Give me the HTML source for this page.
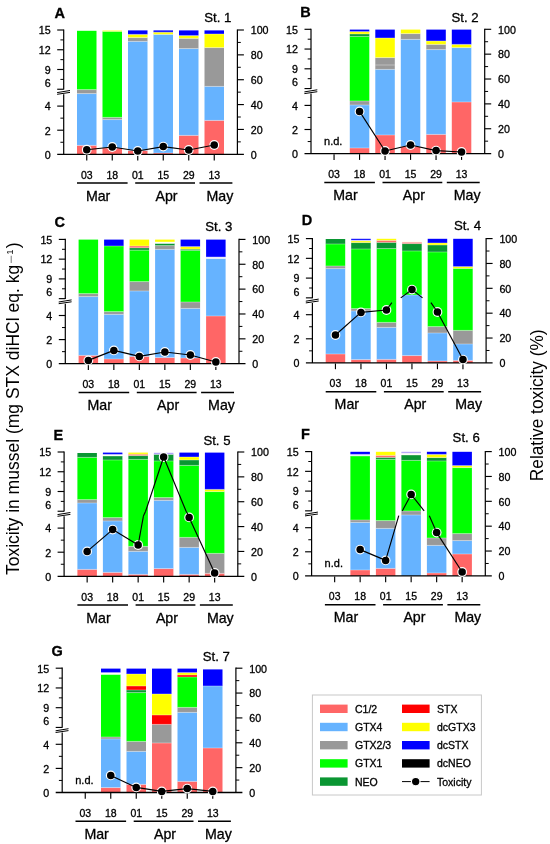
<!DOCTYPE html>
<html lang="en">
<head>
<meta charset="utf-8">
<title>Toxicity in mussel and relative toxicity, St. 1–7</title>
<style>
html,body{margin:0;padding:0;background:#fff;}
body{width:550px;height:844px;overflow:hidden;}
svg{display:block;}
svg text{font-family:'Liberation Sans', sans-serif;fill:#000;}
svg text.c{stroke:#000;stroke-width:0.3px;}
</style>
</head>
<body>
<svg width="550" height="844" viewBox="0 0 550 844">
<rect x="0" y="0" width="550" height="844" fill="#ffffff"/>
<g id="panelA">
<rect x="77.00" y="145.40" width="19.5" height="8.90" fill="#FF6666"/>
<rect x="77.00" y="93.60" width="19.5" height="51.80" fill="#66B3FF"/>
<rect x="77.00" y="89.60" width="19.5" height="4.00" fill="#999999"/>
<rect x="77.00" y="30.80" width="19.5" height="58.80" fill="#00FF00"/>
<line x1="77.00" y1="145.40" x2="96.50" y2="145.40" stroke="#fff" stroke-width="0.6" stroke-opacity="0.6"/>
<line x1="77.00" y1="93.60" x2="96.50" y2="93.60" stroke="#fff" stroke-width="0.6" stroke-opacity="0.6"/>
<line x1="77.00" y1="89.60" x2="96.50" y2="89.60" stroke="#fff" stroke-width="0.6" stroke-opacity="0.6"/>
<rect x="102.50" y="148.00" width="19.5" height="6.30" fill="#FF6666"/>
<rect x="102.50" y="119.60" width="19.5" height="28.40" fill="#66B3FF"/>
<rect x="102.50" y="117.40" width="19.5" height="2.20" fill="#999999"/>
<rect x="102.50" y="31.40" width="19.5" height="86.00" fill="#00FF00"/>
<rect x="102.50" y="30.60" width="19.5" height="0.80" fill="#FFFF00"/>
<line x1="102.50" y1="148.00" x2="122.00" y2="148.00" stroke="#fff" stroke-width="0.6" stroke-opacity="0.6"/>
<line x1="102.50" y1="119.60" x2="122.00" y2="119.60" stroke="#fff" stroke-width="0.6" stroke-opacity="0.6"/>
<line x1="102.50" y1="117.40" x2="122.00" y2="117.40" stroke="#fff" stroke-width="0.6" stroke-opacity="0.6"/>
<line x1="102.50" y1="31.40" x2="122.00" y2="31.40" stroke="#fff" stroke-width="0.6" stroke-opacity="0.6"/>
<rect x="128.00" y="150.50" width="19.5" height="3.80" fill="#FF6666"/>
<rect x="128.00" y="41.40" width="19.5" height="109.10" fill="#66B3FF"/>
<rect x="128.00" y="37.60" width="19.5" height="3.80" fill="#999999"/>
<rect x="128.00" y="34.40" width="19.5" height="3.20" fill="#FFFF00"/>
<rect x="128.00" y="30.40" width="19.5" height="4.00" fill="#0000FF"/>
<line x1="128.00" y1="150.50" x2="147.50" y2="150.50" stroke="#fff" stroke-width="0.6" stroke-opacity="0.6"/>
<line x1="128.00" y1="41.40" x2="147.50" y2="41.40" stroke="#fff" stroke-width="0.6" stroke-opacity="0.6"/>
<line x1="128.00" y1="37.60" x2="147.50" y2="37.60" stroke="#fff" stroke-width="0.6" stroke-opacity="0.6"/>
<line x1="128.00" y1="34.40" x2="147.50" y2="34.40" stroke="#fff" stroke-width="0.6" stroke-opacity="0.6"/>
<rect x="153.50" y="153.00" width="19.5" height="1.30" fill="#FF6666"/>
<rect x="153.50" y="34.40" width="19.5" height="118.60" fill="#66B3FF"/>
<rect x="153.50" y="32.20" width="19.5" height="2.20" fill="#FFFF00"/>
<rect x="153.50" y="30.40" width="19.5" height="1.80" fill="#0000FF"/>
<line x1="153.50" y1="153.00" x2="173.00" y2="153.00" stroke="#fff" stroke-width="0.6" stroke-opacity="0.6"/>
<line x1="153.50" y1="34.40" x2="173.00" y2="34.40" stroke="#fff" stroke-width="0.6" stroke-opacity="0.6"/>
<line x1="153.50" y1="32.20" x2="173.00" y2="32.20" stroke="#fff" stroke-width="0.6" stroke-opacity="0.6"/>
<rect x="179.00" y="135.40" width="19.5" height="18.90" fill="#FF6666"/>
<rect x="179.00" y="48.60" width="19.5" height="86.80" fill="#66B3FF"/>
<rect x="179.00" y="38.40" width="19.5" height="10.20" fill="#999999"/>
<rect x="179.00" y="35.60" width="19.5" height="2.80" fill="#FFFF00"/>
<rect x="179.00" y="30.40" width="19.5" height="5.20" fill="#0000FF"/>
<line x1="179.00" y1="135.40" x2="198.50" y2="135.40" stroke="#fff" stroke-width="0.6" stroke-opacity="0.6"/>
<line x1="179.00" y1="48.60" x2="198.50" y2="48.60" stroke="#fff" stroke-width="0.6" stroke-opacity="0.6"/>
<line x1="179.00" y1="38.40" x2="198.50" y2="38.40" stroke="#fff" stroke-width="0.6" stroke-opacity="0.6"/>
<line x1="179.00" y1="35.60" x2="198.50" y2="35.60" stroke="#fff" stroke-width="0.6" stroke-opacity="0.6"/>
<rect x="204.50" y="120.40" width="19.5" height="33.90" fill="#FF6666"/>
<rect x="204.50" y="86.40" width="19.5" height="34.00" fill="#66B3FF"/>
<rect x="204.50" y="47.60" width="19.5" height="38.80" fill="#999999"/>
<rect x="204.50" y="34.00" width="19.5" height="13.60" fill="#FFFF00"/>
<rect x="204.50" y="30.40" width="19.5" height="3.60" fill="#0000FF"/>
<line x1="204.50" y1="120.40" x2="224.00" y2="120.40" stroke="#fff" stroke-width="0.6" stroke-opacity="0.6"/>
<line x1="204.50" y1="86.40" x2="224.00" y2="86.40" stroke="#fff" stroke-width="0.6" stroke-opacity="0.6"/>
<line x1="204.50" y1="47.60" x2="224.00" y2="47.60" stroke="#fff" stroke-width="0.6" stroke-opacity="0.6"/>
<line x1="204.50" y1="34.00" x2="224.00" y2="34.00" stroke="#fff" stroke-width="0.6" stroke-opacity="0.6"/>
<line x1="57.20" y1="154.30" x2="243.90" y2="154.30" stroke="#000" stroke-width="1.3" />
<line x1="63.70" y1="29.40" x2="63.70" y2="89.60" stroke="#000" stroke-width="1.2" />
<line x1="63.70" y1="94.30" x2="63.70" y2="154.30" stroke="#000" stroke-width="1.2" />
<line x1="57.20" y1="30.00" x2="63.70" y2="30.00" stroke="#000" stroke-width="1.15" />
<line x1="57.20" y1="49.75" x2="63.70" y2="49.75" stroke="#000" stroke-width="1.15" />
<line x1="57.20" y1="69.50" x2="63.70" y2="69.50" stroke="#000" stroke-width="1.15" />
<line x1="57.20" y1="89.25" x2="63.70" y2="89.25" stroke="#000" stroke-width="1.15" />
<line x1="60.40" y1="39.90" x2="63.70" y2="39.90" stroke="#000" stroke-width="1.0" />
<line x1="60.40" y1="59.65" x2="63.70" y2="59.65" stroke="#000" stroke-width="1.0" />
<line x1="60.40" y1="79.40" x2="63.70" y2="79.40" stroke="#000" stroke-width="1.0" />
<line x1="57.20" y1="130.20" x2="63.70" y2="130.20" stroke="#000" stroke-width="1.15" />
<line x1="57.20" y1="106.10" x2="63.70" y2="106.10" stroke="#000" stroke-width="1.15" />
<line x1="60.40" y1="142.25" x2="63.70" y2="142.25" stroke="#000" stroke-width="1.0" />
<line x1="60.40" y1="118.15" x2="63.70" y2="118.15" stroke="#000" stroke-width="1.0" />
<line x1="57.10" y1="92.60" x2="70.00" y2="90.50" stroke="#000" stroke-width="1.0" />
<line x1="57.10" y1="94.30" x2="70.00" y2="92.40" stroke="#000" stroke-width="1.0" />
<line x1="237.40" y1="29.40" x2="237.40" y2="154.30" stroke="#000" stroke-width="1.2" />
<line x1="237.40" y1="30.00" x2="243.90" y2="30.00" stroke="#000" stroke-width="1.15" />
<line x1="237.40" y1="54.86" x2="243.90" y2="54.86" stroke="#000" stroke-width="1.15" />
<line x1="237.40" y1="79.72" x2="243.90" y2="79.72" stroke="#000" stroke-width="1.15" />
<line x1="237.40" y1="104.58" x2="243.90" y2="104.58" stroke="#000" stroke-width="1.15" />
<line x1="237.40" y1="129.44" x2="243.90" y2="129.44" stroke="#000" stroke-width="1.15" />
<line x1="237.40" y1="42.43" x2="240.80" y2="42.43" stroke="#000" stroke-width="1.0" />
<line x1="237.40" y1="67.29" x2="240.80" y2="67.29" stroke="#000" stroke-width="1.0" />
<line x1="237.40" y1="92.15" x2="240.80" y2="92.15" stroke="#000" stroke-width="1.0" />
<line x1="237.40" y1="117.01" x2="240.80" y2="117.01" stroke="#000" stroke-width="1.0" />
<line x1="237.40" y1="141.87" x2="240.80" y2="141.87" stroke="#000" stroke-width="1.0" />
<text class="c" x="50.70" y="34.30" font-size="10.7" text-anchor="end" font-weight="normal" >15</text>
<text class="c" x="50.70" y="54.05" font-size="10.7" text-anchor="end" font-weight="normal" >12</text>
<text class="c" x="50.70" y="73.80" font-size="10.7" text-anchor="end" font-weight="normal" >9</text>
<text class="c" x="50.70" y="86.90" font-size="10.7" text-anchor="end" font-weight="normal" >6</text>
<text class="c" x="50.70" y="110.40" font-size="10.7" text-anchor="end" font-weight="normal" >4</text>
<text class="c" x="50.70" y="134.50" font-size="10.7" text-anchor="end" font-weight="normal" >2</text>
<text class="c" x="50.70" y="158.60" font-size="10.7" text-anchor="end" font-weight="normal" >0</text>
<text class="c" x="250.70" y="34.30" font-size="10.7" text-anchor="start" font-weight="normal" >100</text>
<text class="c" x="250.70" y="59.16" font-size="10.7" text-anchor="start" font-weight="normal" >80</text>
<text class="c" x="250.70" y="84.02" font-size="10.7" text-anchor="start" font-weight="normal" >60</text>
<text class="c" x="250.70" y="108.88" font-size="10.7" text-anchor="start" font-weight="normal" >40</text>
<text class="c" x="250.70" y="133.74" font-size="10.7" text-anchor="start" font-weight="normal" >20</text>
<text class="c" x="250.70" y="158.60" font-size="10.7" text-anchor="start" font-weight="normal" >0</text>
<line x1="86.75" y1="154.90" x2="86.75" y2="160.60" stroke="#000" stroke-width="1.15" />
<text class="c" x="86.75" y="178.50" font-size="10.5" text-anchor="middle" font-weight="normal" >03</text>
<line x1="112.25" y1="154.90" x2="112.25" y2="160.60" stroke="#000" stroke-width="1.15" />
<text class="c" x="112.25" y="178.50" font-size="10.5" text-anchor="middle" font-weight="normal" >18</text>
<line x1="137.75" y1="154.90" x2="137.75" y2="160.60" stroke="#000" stroke-width="1.15" />
<text class="c" x="137.75" y="178.50" font-size="10.5" text-anchor="middle" font-weight="normal" >01</text>
<line x1="163.25" y1="154.90" x2="163.25" y2="160.60" stroke="#000" stroke-width="1.15" />
<text class="c" x="163.25" y="178.50" font-size="10.5" text-anchor="middle" font-weight="normal" >15</text>
<line x1="188.75" y1="154.90" x2="188.75" y2="160.60" stroke="#000" stroke-width="1.15" />
<text class="c" x="188.75" y="178.50" font-size="10.5" text-anchor="middle" font-weight="normal" >29</text>
<line x1="214.25" y1="154.90" x2="214.25" y2="160.60" stroke="#000" stroke-width="1.15" />
<text class="c" x="214.25" y="178.50" font-size="10.5" text-anchor="middle" font-weight="normal" >13</text>
<line x1="77.00" y1="183.10" x2="127.60" y2="183.10" stroke="#000" stroke-width="1.5" />
<line x1="135.20" y1="183.10" x2="195.00" y2="183.10" stroke="#000" stroke-width="1.5" />
<line x1="199.50" y1="183.10" x2="232.40" y2="183.10" stroke="#000" stroke-width="1.5" />
<text class="c" x="85.90" y="200.60" font-size="14.2" text-anchor="start" font-weight="normal" >Mar</text>
<text class="c" x="155.50" y="200.60" font-size="14.2" text-anchor="start" font-weight="normal" >Apr</text>
<text class="c" x="206.50" y="200.60" font-size="14.2" text-anchor="start" font-weight="normal" >May</text>
<text class="c" x="54.40" y="17.70" font-size="14.5" text-anchor="start" font-weight="bold" >A</text>
<text class="c" x="204.20" y="22.30" font-size="13.2" text-anchor="start" font-weight="normal" >St. 1</text>
<circle cx="86.75" cy="149.70" r="4.9" fill="#fff"/>
<circle cx="112.25" cy="147.00" r="4.9" fill="#fff"/>
<circle cx="137.75" cy="151.00" r="4.9" fill="#fff"/>
<circle cx="163.25" cy="146.60" r="4.9" fill="#fff"/>
<circle cx="188.75" cy="150.00" r="4.9" fill="#fff"/>
<circle cx="214.25" cy="145.00" r="4.9" fill="#fff"/>
<line x1="86.75" y1="149.70" x2="112.25" y2="147.00" stroke="#000" stroke-width="1.15" />
<line x1="112.25" y1="147.00" x2="137.75" y2="151.00" stroke="#000" stroke-width="1.15" />
<line x1="137.75" y1="151.00" x2="163.25" y2="146.60" stroke="#000" stroke-width="1.15" />
<line x1="163.25" y1="146.60" x2="188.75" y2="150.00" stroke="#000" stroke-width="1.15" />
<line x1="188.75" y1="150.00" x2="214.25" y2="145.00" stroke="#000" stroke-width="1.15" />
<circle cx="86.75" cy="149.70" r="3.75" fill="#000"/>
<circle cx="112.25" cy="147.00" r="3.75" fill="#000"/>
<circle cx="137.75" cy="151.00" r="3.75" fill="#000"/>
<circle cx="163.25" cy="146.60" r="3.75" fill="#000"/>
<circle cx="188.75" cy="150.00" r="3.75" fill="#000"/>
<circle cx="214.25" cy="145.00" r="3.75" fill="#000"/>
</g>
<g id="panelB">
<rect x="349.80" y="148.00" width="19.5" height="5.60" fill="#FF6666"/>
<rect x="349.80" y="105.00" width="19.5" height="43.00" fill="#66B3FF"/>
<rect x="349.80" y="101.00" width="19.5" height="4.00" fill="#999999"/>
<rect x="349.80" y="36.40" width="19.5" height="64.60" fill="#00FF00"/>
<rect x="349.80" y="34.00" width="19.5" height="2.40" fill="#0A9632"/>
<rect x="349.80" y="31.60" width="19.5" height="2.40" fill="#FFFF00"/>
<rect x="349.80" y="29.60" width="19.5" height="2.00" fill="#0000FF"/>
<line x1="349.80" y1="148.00" x2="369.30" y2="148.00" stroke="#fff" stroke-width="0.6" stroke-opacity="0.6"/>
<line x1="349.80" y1="105.00" x2="369.30" y2="105.00" stroke="#fff" stroke-width="0.6" stroke-opacity="0.6"/>
<line x1="349.80" y1="101.00" x2="369.30" y2="101.00" stroke="#fff" stroke-width="0.6" stroke-opacity="0.6"/>
<line x1="349.80" y1="36.40" x2="369.30" y2="36.40" stroke="#fff" stroke-width="0.6" stroke-opacity="0.6"/>
<line x1="349.80" y1="34.00" x2="369.30" y2="34.00" stroke="#fff" stroke-width="0.6" stroke-opacity="0.6"/>
<line x1="349.80" y1="31.60" x2="369.30" y2="31.60" stroke="#fff" stroke-width="0.6" stroke-opacity="0.6"/>
<rect x="375.30" y="135.00" width="19.5" height="18.60" fill="#FF6666"/>
<rect x="375.30" y="69.40" width="19.5" height="65.60" fill="#66B3FF"/>
<rect x="375.30" y="65.00" width="19.5" height="4.40" fill="#999999"/>
<rect x="375.30" y="57.60" width="19.5" height="7.40" fill="#999999"/>
<rect x="375.30" y="38.00" width="19.5" height="19.60" fill="#FFFF00"/>
<rect x="375.30" y="29.60" width="19.5" height="8.40" fill="#0000FF"/>
<line x1="375.30" y1="135.00" x2="394.80" y2="135.00" stroke="#fff" stroke-width="0.6" stroke-opacity="0.6"/>
<line x1="375.30" y1="69.40" x2="394.80" y2="69.40" stroke="#fff" stroke-width="0.6" stroke-opacity="0.6"/>
<line x1="375.30" y1="65.00" x2="394.80" y2="65.00" stroke="#fff" stroke-width="0.6" stroke-opacity="0.6"/>
<line x1="375.30" y1="57.60" x2="394.80" y2="57.60" stroke="#fff" stroke-width="0.6" stroke-opacity="0.6"/>
<line x1="375.30" y1="38.00" x2="394.80" y2="38.00" stroke="#fff" stroke-width="0.6" stroke-opacity="0.6"/>
<rect x="400.80" y="146.40" width="19.5" height="7.20" fill="#FF6666"/>
<rect x="400.80" y="39.40" width="19.5" height="107.00" fill="#66B3FF"/>
<rect x="400.80" y="33.60" width="19.5" height="5.80" fill="#999999"/>
<rect x="400.80" y="29.60" width="19.5" height="4.00" fill="#FFFF00"/>
<line x1="400.80" y1="146.40" x2="420.30" y2="146.40" stroke="#fff" stroke-width="0.6" stroke-opacity="0.6"/>
<line x1="400.80" y1="39.40" x2="420.30" y2="39.40" stroke="#fff" stroke-width="0.6" stroke-opacity="0.6"/>
<line x1="400.80" y1="33.60" x2="420.30" y2="33.60" stroke="#fff" stroke-width="0.6" stroke-opacity="0.6"/>
<rect x="426.30" y="134.40" width="19.5" height="19.20" fill="#FF6666"/>
<rect x="426.30" y="49.60" width="19.5" height="84.80" fill="#66B3FF"/>
<rect x="426.30" y="44.40" width="19.5" height="5.20" fill="#999999"/>
<rect x="426.30" y="41.00" width="19.5" height="3.40" fill="#FFFF00"/>
<rect x="426.30" y="29.60" width="19.5" height="11.40" fill="#0000FF"/>
<line x1="426.30" y1="134.40" x2="445.80" y2="134.40" stroke="#fff" stroke-width="0.6" stroke-opacity="0.6"/>
<line x1="426.30" y1="49.60" x2="445.80" y2="49.60" stroke="#fff" stroke-width="0.6" stroke-opacity="0.6"/>
<line x1="426.30" y1="44.40" x2="445.80" y2="44.40" stroke="#fff" stroke-width="0.6" stroke-opacity="0.6"/>
<line x1="426.30" y1="41.00" x2="445.80" y2="41.00" stroke="#fff" stroke-width="0.6" stroke-opacity="0.6"/>
<rect x="451.80" y="102.00" width="19.5" height="51.60" fill="#FF6666"/>
<rect x="451.80" y="47.60" width="19.5" height="54.40" fill="#66B3FF"/>
<rect x="451.80" y="44.40" width="19.5" height="3.20" fill="#FFFF00"/>
<rect x="451.80" y="29.60" width="19.5" height="14.80" fill="#0000FF"/>
<line x1="451.80" y1="102.00" x2="471.30" y2="102.00" stroke="#fff" stroke-width="0.6" stroke-opacity="0.6"/>
<line x1="451.80" y1="47.60" x2="471.30" y2="47.60" stroke="#fff" stroke-width="0.6" stroke-opacity="0.6"/>
<line x1="451.80" y1="44.40" x2="471.30" y2="44.40" stroke="#fff" stroke-width="0.6" stroke-opacity="0.6"/>
<line x1="304.50" y1="153.60" x2="491.20" y2="153.60" stroke="#000" stroke-width="1.3" />
<line x1="311.00" y1="28.70" x2="311.00" y2="88.90" stroke="#000" stroke-width="1.2" />
<line x1="311.00" y1="93.60" x2="311.00" y2="153.60" stroke="#000" stroke-width="1.2" />
<line x1="304.50" y1="29.30" x2="311.00" y2="29.30" stroke="#000" stroke-width="1.15" />
<line x1="304.50" y1="49.05" x2="311.00" y2="49.05" stroke="#000" stroke-width="1.15" />
<line x1="304.50" y1="68.80" x2="311.00" y2="68.80" stroke="#000" stroke-width="1.15" />
<line x1="304.50" y1="88.55" x2="311.00" y2="88.55" stroke="#000" stroke-width="1.15" />
<line x1="307.70" y1="39.20" x2="311.00" y2="39.20" stroke="#000" stroke-width="1.0" />
<line x1="307.70" y1="58.95" x2="311.00" y2="58.95" stroke="#000" stroke-width="1.0" />
<line x1="307.70" y1="78.70" x2="311.00" y2="78.70" stroke="#000" stroke-width="1.0" />
<line x1="304.50" y1="129.50" x2="311.00" y2="129.50" stroke="#000" stroke-width="1.15" />
<line x1="304.50" y1="105.40" x2="311.00" y2="105.40" stroke="#000" stroke-width="1.15" />
<line x1="307.70" y1="141.55" x2="311.00" y2="141.55" stroke="#000" stroke-width="1.0" />
<line x1="307.70" y1="117.45" x2="311.00" y2="117.45" stroke="#000" stroke-width="1.0" />
<line x1="304.40" y1="91.90" x2="317.30" y2="89.80" stroke="#000" stroke-width="1.0" />
<line x1="304.40" y1="93.60" x2="317.30" y2="91.70" stroke="#000" stroke-width="1.0" />
<line x1="484.70" y1="28.70" x2="484.70" y2="153.60" stroke="#000" stroke-width="1.2" />
<line x1="484.70" y1="29.30" x2="491.20" y2="29.30" stroke="#000" stroke-width="1.15" />
<line x1="484.70" y1="54.16" x2="491.20" y2="54.16" stroke="#000" stroke-width="1.15" />
<line x1="484.70" y1="79.02" x2="491.20" y2="79.02" stroke="#000" stroke-width="1.15" />
<line x1="484.70" y1="103.88" x2="491.20" y2="103.88" stroke="#000" stroke-width="1.15" />
<line x1="484.70" y1="128.74" x2="491.20" y2="128.74" stroke="#000" stroke-width="1.15" />
<line x1="484.70" y1="41.73" x2="488.10" y2="41.73" stroke="#000" stroke-width="1.0" />
<line x1="484.70" y1="66.59" x2="488.10" y2="66.59" stroke="#000" stroke-width="1.0" />
<line x1="484.70" y1="91.45" x2="488.10" y2="91.45" stroke="#000" stroke-width="1.0" />
<line x1="484.70" y1="116.31" x2="488.10" y2="116.31" stroke="#000" stroke-width="1.0" />
<line x1="484.70" y1="141.17" x2="488.10" y2="141.17" stroke="#000" stroke-width="1.0" />
<text class="c" x="298.00" y="33.60" font-size="10.7" text-anchor="end" font-weight="normal" >15</text>
<text class="c" x="298.00" y="53.35" font-size="10.7" text-anchor="end" font-weight="normal" >12</text>
<text class="c" x="298.00" y="73.10" font-size="10.7" text-anchor="end" font-weight="normal" >9</text>
<text class="c" x="298.00" y="86.20" font-size="10.7" text-anchor="end" font-weight="normal" >6</text>
<text class="c" x="298.00" y="109.70" font-size="10.7" text-anchor="end" font-weight="normal" >4</text>
<text class="c" x="298.00" y="133.80" font-size="10.7" text-anchor="end" font-weight="normal" >2</text>
<text class="c" x="298.00" y="157.90" font-size="10.7" text-anchor="end" font-weight="normal" >0</text>
<text class="c" x="498.00" y="33.60" font-size="10.7" text-anchor="start" font-weight="normal" >100</text>
<text class="c" x="498.00" y="58.46" font-size="10.7" text-anchor="start" font-weight="normal" >80</text>
<text class="c" x="498.00" y="83.32" font-size="10.7" text-anchor="start" font-weight="normal" >60</text>
<text class="c" x="498.00" y="108.18" font-size="10.7" text-anchor="start" font-weight="normal" >40</text>
<text class="c" x="498.00" y="133.04" font-size="10.7" text-anchor="start" font-weight="normal" >20</text>
<text class="c" x="498.00" y="157.90" font-size="10.7" text-anchor="start" font-weight="normal" >0</text>
<line x1="334.05" y1="154.20" x2="334.05" y2="159.90" stroke="#000" stroke-width="1.15" />
<text class="c" x="334.05" y="177.80" font-size="10.5" text-anchor="middle" font-weight="normal" >03</text>
<line x1="359.55" y1="154.20" x2="359.55" y2="159.90" stroke="#000" stroke-width="1.15" />
<text class="c" x="359.55" y="177.80" font-size="10.5" text-anchor="middle" font-weight="normal" >18</text>
<line x1="385.05" y1="154.20" x2="385.05" y2="159.90" stroke="#000" stroke-width="1.15" />
<text class="c" x="385.05" y="177.80" font-size="10.5" text-anchor="middle" font-weight="normal" >01</text>
<line x1="410.55" y1="154.20" x2="410.55" y2="159.90" stroke="#000" stroke-width="1.15" />
<text class="c" x="410.55" y="177.80" font-size="10.5" text-anchor="middle" font-weight="normal" >15</text>
<line x1="436.05" y1="154.20" x2="436.05" y2="159.90" stroke="#000" stroke-width="1.15" />
<text class="c" x="436.05" y="177.80" font-size="10.5" text-anchor="middle" font-weight="normal" >29</text>
<line x1="461.55" y1="154.20" x2="461.55" y2="159.90" stroke="#000" stroke-width="1.15" />
<text class="c" x="461.55" y="177.80" font-size="10.5" text-anchor="middle" font-weight="normal" >13</text>
<line x1="324.30" y1="182.40" x2="374.90" y2="182.40" stroke="#000" stroke-width="1.5" />
<line x1="382.50" y1="182.40" x2="442.30" y2="182.40" stroke="#000" stroke-width="1.5" />
<line x1="446.80" y1="182.40" x2="479.70" y2="182.40" stroke="#000" stroke-width="1.5" />
<text class="c" x="333.20" y="199.90" font-size="14.2" text-anchor="start" font-weight="normal" >Mar</text>
<text class="c" x="402.80" y="199.90" font-size="14.2" text-anchor="start" font-weight="normal" >Apr</text>
<text class="c" x="453.80" y="199.90" font-size="14.2" text-anchor="start" font-weight="normal" >May</text>
<text class="c" x="300.30" y="17.00" font-size="14.5" text-anchor="start" font-weight="bold" >B</text>
<text class="c" x="451.50" y="21.60" font-size="13.2" text-anchor="start" font-weight="normal" >St. 2</text>
<text class="c" x="333.20" y="145.00" font-size="11" text-anchor="middle" font-weight="normal" >n.d.</text>
<circle cx="359.55" cy="111.40" r="4.9" fill="#fff"/>
<circle cx="385.05" cy="151.00" r="4.9" fill="#fff"/>
<circle cx="410.55" cy="145.00" r="4.9" fill="#fff"/>
<circle cx="436.05" cy="150.60" r="4.9" fill="#fff"/>
<circle cx="461.55" cy="152.00" r="4.9" fill="#fff"/>
<line x1="359.55" y1="111.40" x2="385.05" y2="151.00" stroke="#000" stroke-width="1.15" />
<line x1="385.05" y1="151.00" x2="410.55" y2="145.00" stroke="#000" stroke-width="1.15" />
<line x1="410.55" y1="145.00" x2="436.05" y2="150.60" stroke="#000" stroke-width="1.15" />
<line x1="436.05" y1="150.60" x2="461.55" y2="152.00" stroke="#000" stroke-width="1.15" />
<circle cx="359.55" cy="111.40" r="3.75" fill="#000"/>
<circle cx="385.05" cy="151.00" r="3.75" fill="#000"/>
<circle cx="410.55" cy="145.00" r="3.75" fill="#000"/>
<circle cx="436.05" cy="150.60" r="3.75" fill="#000"/>
<circle cx="461.55" cy="152.00" r="3.75" fill="#000"/>
</g>
<g id="panelC">
<rect x="78.60" y="355.40" width="19.5" height="8.30" fill="#FF6666"/>
<rect x="78.60" y="296.60" width="19.5" height="58.80" fill="#66B3FF"/>
<rect x="78.60" y="293.60" width="19.5" height="3.00" fill="#999999"/>
<rect x="78.60" y="239.60" width="19.5" height="54.00" fill="#00FF00"/>
<line x1="78.60" y1="355.40" x2="98.10" y2="355.40" stroke="#fff" stroke-width="0.6" stroke-opacity="0.6"/>
<line x1="78.60" y1="296.60" x2="98.10" y2="296.60" stroke="#fff" stroke-width="0.6" stroke-opacity="0.6"/>
<line x1="78.60" y1="293.60" x2="98.10" y2="293.60" stroke="#fff" stroke-width="0.6" stroke-opacity="0.6"/>
<rect x="104.10" y="359.00" width="19.5" height="4.70" fill="#FF6666"/>
<rect x="104.10" y="314.40" width="19.5" height="44.60" fill="#66B3FF"/>
<rect x="104.10" y="311.60" width="19.5" height="2.80" fill="#999999"/>
<rect x="104.10" y="246.00" width="19.5" height="65.60" fill="#00FF00"/>
<rect x="104.10" y="239.60" width="19.5" height="6.40" fill="#0000FF"/>
<line x1="104.10" y1="359.00" x2="123.60" y2="359.00" stroke="#fff" stroke-width="0.6" stroke-opacity="0.6"/>
<line x1="104.10" y1="314.40" x2="123.60" y2="314.40" stroke="#fff" stroke-width="0.6" stroke-opacity="0.6"/>
<line x1="104.10" y1="311.60" x2="123.60" y2="311.60" stroke="#fff" stroke-width="0.6" stroke-opacity="0.6"/>
<line x1="104.10" y1="246.00" x2="123.60" y2="246.00" stroke="#fff" stroke-width="0.6" stroke-opacity="0.6"/>
<rect x="129.60" y="356.40" width="19.5" height="7.30" fill="#FF6666"/>
<rect x="129.60" y="291.00" width="19.5" height="65.40" fill="#66B3FF"/>
<rect x="129.60" y="281.60" width="19.5" height="9.40" fill="#999999"/>
<rect x="129.60" y="250.20" width="19.5" height="31.40" fill="#00FF00"/>
<rect x="129.60" y="247.80" width="19.5" height="2.40" fill="#0A9632"/>
<rect x="129.60" y="246.00" width="19.5" height="1.80" fill="#FF6666"/>
<rect x="129.60" y="239.60" width="19.5" height="6.40" fill="#FFFF00"/>
<line x1="129.60" y1="356.40" x2="149.10" y2="356.40" stroke="#fff" stroke-width="0.6" stroke-opacity="0.6"/>
<line x1="129.60" y1="291.00" x2="149.10" y2="291.00" stroke="#fff" stroke-width="0.6" stroke-opacity="0.6"/>
<line x1="129.60" y1="281.60" x2="149.10" y2="281.60" stroke="#fff" stroke-width="0.6" stroke-opacity="0.6"/>
<line x1="129.60" y1="250.20" x2="149.10" y2="250.20" stroke="#fff" stroke-width="0.6" stroke-opacity="0.6"/>
<line x1="129.60" y1="247.80" x2="149.10" y2="247.80" stroke="#fff" stroke-width="0.6" stroke-opacity="0.6"/>
<line x1="129.60" y1="246.00" x2="149.10" y2="246.00" stroke="#fff" stroke-width="0.6" stroke-opacity="0.6"/>
<rect x="155.10" y="357.60" width="19.5" height="6.10" fill="#FF6666"/>
<rect x="155.10" y="249.40" width="19.5" height="108.20" fill="#66B3FF"/>
<rect x="155.10" y="245.60" width="19.5" height="3.80" fill="#999999"/>
<rect x="155.10" y="243.40" width="19.5" height="2.20" fill="#0A9632"/>
<rect x="155.10" y="242.00" width="19.5" height="1.40" fill="#FFFFF4"/>
<rect x="155.10" y="239.60" width="19.5" height="2.40" fill="#FFFF00"/>
<line x1="155.10" y1="357.60" x2="174.60" y2="357.60" stroke="#fff" stroke-width="0.6" stroke-opacity="0.6"/>
<line x1="155.10" y1="249.40" x2="174.60" y2="249.40" stroke="#fff" stroke-width="0.6" stroke-opacity="0.6"/>
<line x1="155.10" y1="245.60" x2="174.60" y2="245.60" stroke="#fff" stroke-width="0.6" stroke-opacity="0.6"/>
<line x1="155.10" y1="243.40" x2="174.60" y2="243.40" stroke="#fff" stroke-width="0.6" stroke-opacity="0.6"/>
<line x1="155.10" y1="242.00" x2="174.60" y2="242.00" stroke="#fff" stroke-width="0.6" stroke-opacity="0.6"/>
<rect x="180.60" y="358.00" width="19.5" height="5.70" fill="#FF6666"/>
<rect x="180.60" y="308.40" width="19.5" height="49.60" fill="#66B3FF"/>
<rect x="180.60" y="302.00" width="19.5" height="6.40" fill="#999999"/>
<rect x="180.60" y="250.40" width="19.5" height="51.60" fill="#00FF00"/>
<rect x="180.60" y="249.20" width="19.5" height="1.20" fill="#0A9632"/>
<rect x="180.60" y="246.60" width="19.5" height="2.60" fill="#FFFF00"/>
<rect x="180.60" y="239.60" width="19.5" height="7.00" fill="#0000FF"/>
<line x1="180.60" y1="358.00" x2="200.10" y2="358.00" stroke="#fff" stroke-width="0.6" stroke-opacity="0.6"/>
<line x1="180.60" y1="308.40" x2="200.10" y2="308.40" stroke="#fff" stroke-width="0.6" stroke-opacity="0.6"/>
<line x1="180.60" y1="302.00" x2="200.10" y2="302.00" stroke="#fff" stroke-width="0.6" stroke-opacity="0.6"/>
<line x1="180.60" y1="250.40" x2="200.10" y2="250.40" stroke="#fff" stroke-width="0.6" stroke-opacity="0.6"/>
<line x1="180.60" y1="249.20" x2="200.10" y2="249.20" stroke="#fff" stroke-width="0.6" stroke-opacity="0.6"/>
<line x1="180.60" y1="246.60" x2="200.10" y2="246.60" stroke="#fff" stroke-width="0.6" stroke-opacity="0.6"/>
<rect x="206.10" y="316.00" width="19.5" height="47.70" fill="#FF6666"/>
<rect x="206.10" y="258.60" width="19.5" height="57.40" fill="#66B3FF"/>
<rect x="206.10" y="257.00" width="19.5" height="1.60" fill="#E8E8F8"/>
<rect x="206.10" y="239.60" width="19.5" height="17.40" fill="#0000FF"/>
<line x1="206.10" y1="316.00" x2="225.60" y2="316.00" stroke="#fff" stroke-width="0.6" stroke-opacity="0.6"/>
<line x1="206.10" y1="258.60" x2="225.60" y2="258.60" stroke="#fff" stroke-width="0.6" stroke-opacity="0.6"/>
<line x1="206.10" y1="257.00" x2="225.60" y2="257.00" stroke="#fff" stroke-width="0.6" stroke-opacity="0.6"/>
<line x1="58.80" y1="363.70" x2="245.50" y2="363.70" stroke="#000" stroke-width="1.3" />
<line x1="65.30" y1="238.80" x2="65.30" y2="299.00" stroke="#000" stroke-width="1.2" />
<line x1="65.30" y1="303.70" x2="65.30" y2="363.70" stroke="#000" stroke-width="1.2" />
<line x1="58.80" y1="239.40" x2="65.30" y2="239.40" stroke="#000" stroke-width="1.15" />
<line x1="58.80" y1="259.15" x2="65.30" y2="259.15" stroke="#000" stroke-width="1.15" />
<line x1="58.80" y1="278.90" x2="65.30" y2="278.90" stroke="#000" stroke-width="1.15" />
<line x1="58.80" y1="298.65" x2="65.30" y2="298.65" stroke="#000" stroke-width="1.15" />
<line x1="62.00" y1="249.30" x2="65.30" y2="249.30" stroke="#000" stroke-width="1.0" />
<line x1="62.00" y1="269.05" x2="65.30" y2="269.05" stroke="#000" stroke-width="1.0" />
<line x1="62.00" y1="288.80" x2="65.30" y2="288.80" stroke="#000" stroke-width="1.0" />
<line x1="58.80" y1="339.60" x2="65.30" y2="339.60" stroke="#000" stroke-width="1.15" />
<line x1="58.80" y1="315.50" x2="65.30" y2="315.50" stroke="#000" stroke-width="1.15" />
<line x1="62.00" y1="351.65" x2="65.30" y2="351.65" stroke="#000" stroke-width="1.0" />
<line x1="62.00" y1="327.55" x2="65.30" y2="327.55" stroke="#000" stroke-width="1.0" />
<line x1="58.70" y1="302.00" x2="71.60" y2="299.90" stroke="#000" stroke-width="1.0" />
<line x1="58.70" y1="303.70" x2="71.60" y2="301.80" stroke="#000" stroke-width="1.0" />
<line x1="239.00" y1="238.80" x2="239.00" y2="363.70" stroke="#000" stroke-width="1.2" />
<line x1="239.00" y1="239.40" x2="245.50" y2="239.40" stroke="#000" stroke-width="1.15" />
<line x1="239.00" y1="264.26" x2="245.50" y2="264.26" stroke="#000" stroke-width="1.15" />
<line x1="239.00" y1="289.12" x2="245.50" y2="289.12" stroke="#000" stroke-width="1.15" />
<line x1="239.00" y1="313.98" x2="245.50" y2="313.98" stroke="#000" stroke-width="1.15" />
<line x1="239.00" y1="338.84" x2="245.50" y2="338.84" stroke="#000" stroke-width="1.15" />
<line x1="239.00" y1="251.83" x2="242.40" y2="251.83" stroke="#000" stroke-width="1.0" />
<line x1="239.00" y1="276.69" x2="242.40" y2="276.69" stroke="#000" stroke-width="1.0" />
<line x1="239.00" y1="301.55" x2="242.40" y2="301.55" stroke="#000" stroke-width="1.0" />
<line x1="239.00" y1="326.41" x2="242.40" y2="326.41" stroke="#000" stroke-width="1.0" />
<line x1="239.00" y1="351.27" x2="242.40" y2="351.27" stroke="#000" stroke-width="1.0" />
<text class="c" x="52.30" y="243.70" font-size="10.7" text-anchor="end" font-weight="normal" >15</text>
<text class="c" x="52.30" y="263.45" font-size="10.7" text-anchor="end" font-weight="normal" >12</text>
<text class="c" x="52.30" y="283.20" font-size="10.7" text-anchor="end" font-weight="normal" >9</text>
<text class="c" x="52.30" y="296.30" font-size="10.7" text-anchor="end" font-weight="normal" >6</text>
<text class="c" x="52.30" y="319.80" font-size="10.7" text-anchor="end" font-weight="normal" >4</text>
<text class="c" x="52.30" y="343.90" font-size="10.7" text-anchor="end" font-weight="normal" >2</text>
<text class="c" x="52.30" y="368.00" font-size="10.7" text-anchor="end" font-weight="normal" >0</text>
<text class="c" x="252.30" y="243.70" font-size="10.7" text-anchor="start" font-weight="normal" >100</text>
<text class="c" x="252.30" y="268.56" font-size="10.7" text-anchor="start" font-weight="normal" >80</text>
<text class="c" x="252.30" y="293.42" font-size="10.7" text-anchor="start" font-weight="normal" >60</text>
<text class="c" x="252.30" y="318.28" font-size="10.7" text-anchor="start" font-weight="normal" >40</text>
<text class="c" x="252.30" y="343.14" font-size="10.7" text-anchor="start" font-weight="normal" >20</text>
<text class="c" x="252.30" y="368.00" font-size="10.7" text-anchor="start" font-weight="normal" >0</text>
<line x1="88.35" y1="364.30" x2="88.35" y2="370.00" stroke="#000" stroke-width="1.15" />
<text class="c" x="88.35" y="387.90" font-size="10.5" text-anchor="middle" font-weight="normal" >03</text>
<line x1="113.85" y1="364.30" x2="113.85" y2="370.00" stroke="#000" stroke-width="1.15" />
<text class="c" x="113.85" y="387.90" font-size="10.5" text-anchor="middle" font-weight="normal" >18</text>
<line x1="139.35" y1="364.30" x2="139.35" y2="370.00" stroke="#000" stroke-width="1.15" />
<text class="c" x="139.35" y="387.90" font-size="10.5" text-anchor="middle" font-weight="normal" >01</text>
<line x1="164.85" y1="364.30" x2="164.85" y2="370.00" stroke="#000" stroke-width="1.15" />
<text class="c" x="164.85" y="387.90" font-size="10.5" text-anchor="middle" font-weight="normal" >15</text>
<line x1="190.35" y1="364.30" x2="190.35" y2="370.00" stroke="#000" stroke-width="1.15" />
<text class="c" x="190.35" y="387.90" font-size="10.5" text-anchor="middle" font-weight="normal" >29</text>
<line x1="215.85" y1="364.30" x2="215.85" y2="370.00" stroke="#000" stroke-width="1.15" />
<text class="c" x="215.85" y="387.90" font-size="10.5" text-anchor="middle" font-weight="normal" >13</text>
<line x1="78.60" y1="392.50" x2="129.20" y2="392.50" stroke="#000" stroke-width="1.5" />
<line x1="136.80" y1="392.50" x2="196.60" y2="392.50" stroke="#000" stroke-width="1.5" />
<line x1="201.10" y1="392.50" x2="234.00" y2="392.50" stroke="#000" stroke-width="1.5" />
<text class="c" x="87.50" y="410.00" font-size="14.2" text-anchor="start" font-weight="normal" >Mar</text>
<text class="c" x="157.10" y="410.00" font-size="14.2" text-anchor="start" font-weight="normal" >Apr</text>
<text class="c" x="208.10" y="410.00" font-size="14.2" text-anchor="start" font-weight="normal" >May</text>
<text class="c" x="54.60" y="227.10" font-size="14.5" text-anchor="start" font-weight="bold" >C</text>
<text class="c" x="205.20" y="231.20" font-size="13.2" text-anchor="start" font-weight="normal" >St. 3</text>
<circle cx="88.35" cy="360.40" r="4.9" fill="#fff"/>
<circle cx="113.85" cy="350.40" r="4.9" fill="#fff"/>
<circle cx="139.35" cy="356.40" r="4.9" fill="#fff"/>
<circle cx="164.85" cy="352.00" r="4.9" fill="#fff"/>
<circle cx="190.35" cy="355.00" r="4.9" fill="#fff"/>
<circle cx="215.85" cy="362.00" r="4.9" fill="#fff"/>
<line x1="88.35" y1="360.40" x2="113.85" y2="350.40" stroke="#000" stroke-width="1.15" />
<line x1="113.85" y1="350.40" x2="139.35" y2="356.40" stroke="#000" stroke-width="1.15" />
<line x1="139.35" y1="356.40" x2="164.85" y2="352.00" stroke="#000" stroke-width="1.15" />
<line x1="164.85" y1="352.00" x2="190.35" y2="355.00" stroke="#000" stroke-width="1.15" />
<line x1="190.35" y1="355.00" x2="215.85" y2="362.00" stroke="#000" stroke-width="1.15" />
<circle cx="88.35" cy="360.40" r="3.75" fill="#000"/>
<circle cx="113.85" cy="350.40" r="3.75" fill="#000"/>
<circle cx="139.35" cy="356.40" r="3.75" fill="#000"/>
<circle cx="164.85" cy="352.00" r="3.75" fill="#000"/>
<circle cx="190.35" cy="355.00" r="3.75" fill="#000"/>
<circle cx="215.85" cy="362.00" r="3.75" fill="#000"/>
</g>
<g id="panelD">
<rect x="325.70" y="354.00" width="19.5" height="8.90" fill="#FF6666"/>
<rect x="325.70" y="268.60" width="19.5" height="85.40" fill="#66B3FF"/>
<rect x="325.70" y="266.00" width="19.5" height="2.60" fill="#999999"/>
<rect x="325.70" y="244.00" width="19.5" height="22.00" fill="#00FF00"/>
<rect x="325.70" y="239.00" width="19.5" height="5.00" fill="#0A9632"/>
<line x1="325.70" y1="354.00" x2="345.20" y2="354.00" stroke="#fff" stroke-width="0.6" stroke-opacity="0.6"/>
<line x1="325.70" y1="268.60" x2="345.20" y2="268.60" stroke="#fff" stroke-width="0.6" stroke-opacity="0.6"/>
<line x1="325.70" y1="266.00" x2="345.20" y2="266.00" stroke="#fff" stroke-width="0.6" stroke-opacity="0.6"/>
<line x1="325.70" y1="244.00" x2="345.20" y2="244.00" stroke="#fff" stroke-width="0.6" stroke-opacity="0.6"/>
<rect x="351.20" y="359.60" width="19.5" height="3.30" fill="#FF6666"/>
<rect x="351.20" y="311.00" width="19.5" height="48.60" fill="#66B3FF"/>
<rect x="351.20" y="308.60" width="19.5" height="2.40" fill="#999999"/>
<rect x="351.20" y="249.00" width="19.5" height="59.60" fill="#00FF00"/>
<rect x="351.20" y="242.60" width="19.5" height="6.40" fill="#0A9632"/>
<rect x="351.20" y="241.00" width="19.5" height="1.60" fill="#FFFF00"/>
<rect x="351.20" y="240.20" width="19.5" height="0.80" fill="#E8E8F8"/>
<rect x="351.20" y="238.80" width="19.5" height="1.40" fill="#0000FF"/>
<line x1="351.20" y1="359.60" x2="370.70" y2="359.60" stroke="#fff" stroke-width="0.6" stroke-opacity="0.6"/>
<line x1="351.20" y1="311.00" x2="370.70" y2="311.00" stroke="#fff" stroke-width="0.6" stroke-opacity="0.6"/>
<line x1="351.20" y1="308.60" x2="370.70" y2="308.60" stroke="#fff" stroke-width="0.6" stroke-opacity="0.6"/>
<line x1="351.20" y1="249.00" x2="370.70" y2="249.00" stroke="#fff" stroke-width="0.6" stroke-opacity="0.6"/>
<line x1="351.20" y1="242.60" x2="370.70" y2="242.60" stroke="#fff" stroke-width="0.6" stroke-opacity="0.6"/>
<line x1="351.20" y1="241.00" x2="370.70" y2="241.00" stroke="#fff" stroke-width="0.6" stroke-opacity="0.6"/>
<line x1="351.20" y1="240.20" x2="370.70" y2="240.20" stroke="#fff" stroke-width="0.6" stroke-opacity="0.6"/>
<rect x="376.70" y="359.40" width="19.5" height="3.50" fill="#FF6666"/>
<rect x="376.70" y="327.40" width="19.5" height="32.00" fill="#66B3FF"/>
<rect x="376.70" y="322.40" width="19.5" height="5.00" fill="#999999"/>
<rect x="376.70" y="248.60" width="19.5" height="73.80" fill="#00FF00"/>
<rect x="376.70" y="242.40" width="19.5" height="6.20" fill="#0A9632"/>
<rect x="376.70" y="240.40" width="19.5" height="2.00" fill="#FF6666"/>
<rect x="376.70" y="238.80" width="19.5" height="1.60" fill="#FFFF00"/>
<line x1="376.70" y1="359.40" x2="396.20" y2="359.40" stroke="#fff" stroke-width="0.6" stroke-opacity="0.6"/>
<line x1="376.70" y1="327.40" x2="396.20" y2="327.40" stroke="#fff" stroke-width="0.6" stroke-opacity="0.6"/>
<line x1="376.70" y1="322.40" x2="396.20" y2="322.40" stroke="#fff" stroke-width="0.6" stroke-opacity="0.6"/>
<line x1="376.70" y1="248.60" x2="396.20" y2="248.60" stroke="#fff" stroke-width="0.6" stroke-opacity="0.6"/>
<line x1="376.70" y1="242.40" x2="396.20" y2="242.40" stroke="#fff" stroke-width="0.6" stroke-opacity="0.6"/>
<line x1="376.70" y1="240.40" x2="396.20" y2="240.40" stroke="#fff" stroke-width="0.6" stroke-opacity="0.6"/>
<rect x="402.20" y="355.60" width="19.5" height="7.30" fill="#FF6666"/>
<rect x="402.20" y="295.00" width="19.5" height="60.60" fill="#66B3FF"/>
<rect x="402.20" y="251.00" width="19.5" height="44.00" fill="#00FF00"/>
<rect x="402.20" y="243.60" width="19.5" height="7.40" fill="#0A9632"/>
<rect x="402.20" y="242.20" width="19.5" height="1.40" fill="#FF6666"/>
<rect x="402.20" y="241.00" width="19.5" height="1.20" fill="#FFFFF4"/>
<line x1="402.20" y1="355.60" x2="421.70" y2="355.60" stroke="#fff" stroke-width="0.6" stroke-opacity="0.6"/>
<line x1="402.20" y1="295.00" x2="421.70" y2="295.00" stroke="#fff" stroke-width="0.6" stroke-opacity="0.6"/>
<line x1="402.20" y1="251.00" x2="421.70" y2="251.00" stroke="#fff" stroke-width="0.6" stroke-opacity="0.6"/>
<line x1="402.20" y1="243.60" x2="421.70" y2="243.60" stroke="#fff" stroke-width="0.6" stroke-opacity="0.6"/>
<line x1="402.20" y1="242.20" x2="421.70" y2="242.20" stroke="#fff" stroke-width="0.6" stroke-opacity="0.6"/>
<rect x="427.70" y="361.00" width="19.5" height="1.90" fill="#FF6666"/>
<rect x="427.70" y="333.00" width="19.5" height="28.00" fill="#66B3FF"/>
<rect x="427.70" y="326.60" width="19.5" height="6.40" fill="#999999"/>
<rect x="427.70" y="252.00" width="19.5" height="74.60" fill="#00FF00"/>
<rect x="427.70" y="245.00" width="19.5" height="7.00" fill="#0A9632"/>
<rect x="427.70" y="243.00" width="19.5" height="2.00" fill="#FFFF00"/>
<rect x="427.70" y="238.80" width="19.5" height="4.20" fill="#0000FF"/>
<line x1="427.70" y1="361.00" x2="447.20" y2="361.00" stroke="#fff" stroke-width="0.6" stroke-opacity="0.6"/>
<line x1="427.70" y1="333.00" x2="447.20" y2="333.00" stroke="#fff" stroke-width="0.6" stroke-opacity="0.6"/>
<line x1="427.70" y1="326.60" x2="447.20" y2="326.60" stroke="#fff" stroke-width="0.6" stroke-opacity="0.6"/>
<line x1="427.70" y1="252.00" x2="447.20" y2="252.00" stroke="#fff" stroke-width="0.6" stroke-opacity="0.6"/>
<line x1="427.70" y1="245.00" x2="447.20" y2="245.00" stroke="#fff" stroke-width="0.6" stroke-opacity="0.6"/>
<line x1="427.70" y1="243.00" x2="447.20" y2="243.00" stroke="#fff" stroke-width="0.6" stroke-opacity="0.6"/>
<rect x="453.20" y="360.40" width="19.5" height="2.50" fill="#FF6666"/>
<rect x="453.20" y="344.00" width="19.5" height="16.40" fill="#66B3FF"/>
<rect x="453.20" y="330.40" width="19.5" height="13.60" fill="#999999"/>
<rect x="453.20" y="268.40" width="19.5" height="62.00" fill="#00FF00"/>
<rect x="453.20" y="266.60" width="19.5" height="1.80" fill="#FFFF00"/>
<rect x="453.20" y="238.80" width="19.5" height="27.80" fill="#0000FF"/>
<line x1="453.20" y1="360.40" x2="472.70" y2="360.40" stroke="#fff" stroke-width="0.6" stroke-opacity="0.6"/>
<line x1="453.20" y1="344.00" x2="472.70" y2="344.00" stroke="#fff" stroke-width="0.6" stroke-opacity="0.6"/>
<line x1="453.20" y1="330.40" x2="472.70" y2="330.40" stroke="#fff" stroke-width="0.6" stroke-opacity="0.6"/>
<line x1="453.20" y1="268.40" x2="472.70" y2="268.40" stroke="#fff" stroke-width="0.6" stroke-opacity="0.6"/>
<line x1="453.20" y1="266.60" x2="472.70" y2="266.60" stroke="#fff" stroke-width="0.6" stroke-opacity="0.6"/>
<line x1="305.90" y1="362.90" x2="492.60" y2="362.90" stroke="#000" stroke-width="1.3" />
<line x1="312.40" y1="238.00" x2="312.40" y2="298.20" stroke="#000" stroke-width="1.2" />
<line x1="312.40" y1="302.90" x2="312.40" y2="362.90" stroke="#000" stroke-width="1.2" />
<line x1="305.90" y1="238.60" x2="312.40" y2="238.60" stroke="#000" stroke-width="1.15" />
<line x1="305.90" y1="258.35" x2="312.40" y2="258.35" stroke="#000" stroke-width="1.15" />
<line x1="305.90" y1="278.10" x2="312.40" y2="278.10" stroke="#000" stroke-width="1.15" />
<line x1="305.90" y1="297.85" x2="312.40" y2="297.85" stroke="#000" stroke-width="1.15" />
<line x1="309.10" y1="248.50" x2="312.40" y2="248.50" stroke="#000" stroke-width="1.0" />
<line x1="309.10" y1="268.25" x2="312.40" y2="268.25" stroke="#000" stroke-width="1.0" />
<line x1="309.10" y1="288.00" x2="312.40" y2="288.00" stroke="#000" stroke-width="1.0" />
<line x1="305.90" y1="338.80" x2="312.40" y2="338.80" stroke="#000" stroke-width="1.15" />
<line x1="305.90" y1="314.70" x2="312.40" y2="314.70" stroke="#000" stroke-width="1.15" />
<line x1="309.10" y1="350.85" x2="312.40" y2="350.85" stroke="#000" stroke-width="1.0" />
<line x1="309.10" y1="326.75" x2="312.40" y2="326.75" stroke="#000" stroke-width="1.0" />
<line x1="305.80" y1="301.20" x2="318.70" y2="299.10" stroke="#000" stroke-width="1.0" />
<line x1="305.80" y1="302.90" x2="318.70" y2="301.00" stroke="#000" stroke-width="1.0" />
<line x1="486.10" y1="238.00" x2="486.10" y2="362.90" stroke="#000" stroke-width="1.2" />
<line x1="486.10" y1="238.60" x2="492.60" y2="238.60" stroke="#000" stroke-width="1.15" />
<line x1="486.10" y1="263.46" x2="492.60" y2="263.46" stroke="#000" stroke-width="1.15" />
<line x1="486.10" y1="288.32" x2="492.60" y2="288.32" stroke="#000" stroke-width="1.15" />
<line x1="486.10" y1="313.18" x2="492.60" y2="313.18" stroke="#000" stroke-width="1.15" />
<line x1="486.10" y1="338.04" x2="492.60" y2="338.04" stroke="#000" stroke-width="1.15" />
<line x1="486.10" y1="251.03" x2="489.50" y2="251.03" stroke="#000" stroke-width="1.0" />
<line x1="486.10" y1="275.89" x2="489.50" y2="275.89" stroke="#000" stroke-width="1.0" />
<line x1="486.10" y1="300.75" x2="489.50" y2="300.75" stroke="#000" stroke-width="1.0" />
<line x1="486.10" y1="325.61" x2="489.50" y2="325.61" stroke="#000" stroke-width="1.0" />
<line x1="486.10" y1="350.47" x2="489.50" y2="350.47" stroke="#000" stroke-width="1.0" />
<text class="c" x="299.40" y="242.90" font-size="10.7" text-anchor="end" font-weight="normal" >15</text>
<text class="c" x="299.40" y="262.65" font-size="10.7" text-anchor="end" font-weight="normal" >12</text>
<text class="c" x="299.40" y="282.40" font-size="10.7" text-anchor="end" font-weight="normal" >9</text>
<text class="c" x="299.40" y="295.50" font-size="10.7" text-anchor="end" font-weight="normal" >6</text>
<text class="c" x="299.40" y="319.00" font-size="10.7" text-anchor="end" font-weight="normal" >4</text>
<text class="c" x="299.40" y="343.10" font-size="10.7" text-anchor="end" font-weight="normal" >2</text>
<text class="c" x="299.40" y="367.20" font-size="10.7" text-anchor="end" font-weight="normal" >0</text>
<text class="c" x="499.40" y="242.90" font-size="10.7" text-anchor="start" font-weight="normal" >100</text>
<text class="c" x="499.40" y="267.76" font-size="10.7" text-anchor="start" font-weight="normal" >80</text>
<text class="c" x="499.40" y="292.62" font-size="10.7" text-anchor="start" font-weight="normal" >60</text>
<text class="c" x="499.40" y="317.48" font-size="10.7" text-anchor="start" font-weight="normal" >40</text>
<text class="c" x="499.40" y="342.34" font-size="10.7" text-anchor="start" font-weight="normal" >20</text>
<text class="c" x="499.40" y="367.20" font-size="10.7" text-anchor="start" font-weight="normal" >0</text>
<line x1="335.45" y1="363.50" x2="335.45" y2="369.20" stroke="#000" stroke-width="1.15" />
<text class="c" x="335.45" y="387.10" font-size="10.5" text-anchor="middle" font-weight="normal" >03</text>
<line x1="360.95" y1="363.50" x2="360.95" y2="369.20" stroke="#000" stroke-width="1.15" />
<text class="c" x="360.95" y="387.10" font-size="10.5" text-anchor="middle" font-weight="normal" >18</text>
<line x1="386.45" y1="363.50" x2="386.45" y2="369.20" stroke="#000" stroke-width="1.15" />
<text class="c" x="386.45" y="387.10" font-size="10.5" text-anchor="middle" font-weight="normal" >01</text>
<line x1="411.95" y1="363.50" x2="411.95" y2="369.20" stroke="#000" stroke-width="1.15" />
<text class="c" x="411.95" y="387.10" font-size="10.5" text-anchor="middle" font-weight="normal" >15</text>
<line x1="437.45" y1="363.50" x2="437.45" y2="369.20" stroke="#000" stroke-width="1.15" />
<text class="c" x="437.45" y="387.10" font-size="10.5" text-anchor="middle" font-weight="normal" >29</text>
<line x1="462.95" y1="363.50" x2="462.95" y2="369.20" stroke="#000" stroke-width="1.15" />
<text class="c" x="462.95" y="387.10" font-size="10.5" text-anchor="middle" font-weight="normal" >13</text>
<line x1="325.70" y1="391.70" x2="376.30" y2="391.70" stroke="#000" stroke-width="1.5" />
<line x1="383.90" y1="391.70" x2="443.70" y2="391.70" stroke="#000" stroke-width="1.5" />
<line x1="448.20" y1="391.70" x2="481.10" y2="391.70" stroke="#000" stroke-width="1.5" />
<text class="c" x="334.60" y="409.20" font-size="14.2" text-anchor="start" font-weight="normal" >Mar</text>
<text class="c" x="404.20" y="409.20" font-size="14.2" text-anchor="start" font-weight="normal" >Apr</text>
<text class="c" x="455.20" y="409.20" font-size="14.2" text-anchor="start" font-weight="normal" >May</text>
<text class="c" x="301.70" y="225.10" font-size="14.5" text-anchor="start" font-weight="bold" >D</text>
<text class="c" x="453.90" y="229.70" font-size="13.2" text-anchor="start" font-weight="normal" >St. 4</text>
<circle cx="335.45" cy="335.00" r="4.9" fill="#fff"/>
<circle cx="360.95" cy="312.40" r="4.9" fill="#fff"/>
<circle cx="386.45" cy="310.00" r="4.9" fill="#fff"/>
<circle cx="411.95" cy="289.60" r="4.9" fill="#fff"/>
<circle cx="437.45" cy="312.00" r="4.9" fill="#fff"/>
<circle cx="462.95" cy="359.60" r="4.9" fill="#fff"/>
<line x1="335.45" y1="335.00" x2="360.95" y2="312.40" stroke="#000" stroke-width="1.15" />
<line x1="360.95" y1="312.40" x2="386.45" y2="310.00" stroke="#000" stroke-width="1.15" />
<line x1="386.45" y1="310.00" x2="391.87" y2="302.65" stroke="#000" stroke-width="1.15" />
<line x1="400.76" y1="297.90" x2="411.95" y2="289.60" stroke="#000" stroke-width="1.15" />
<line x1="437.45" y1="312.00" x2="430.93" y2="302.65" stroke="#000" stroke-width="1.15" />
<line x1="422.53" y1="297.90" x2="411.95" y2="289.60" stroke="#000" stroke-width="1.15" />
<line x1="437.45" y1="312.00" x2="462.95" y2="359.60" stroke="#000" stroke-width="1.15" />
<circle cx="335.45" cy="335.00" r="3.75" fill="#000"/>
<circle cx="360.95" cy="312.40" r="3.75" fill="#000"/>
<circle cx="386.45" cy="310.00" r="3.75" fill="#000"/>
<circle cx="411.95" cy="289.60" r="3.75" fill="#000"/>
<circle cx="437.45" cy="312.00" r="3.75" fill="#000"/>
<circle cx="462.95" cy="359.60" r="3.75" fill="#000"/>
</g>
<g id="panelE">
<rect x="77.40" y="569.40" width="19.5" height="6.90" fill="#FF6666"/>
<rect x="77.40" y="503.00" width="19.5" height="66.40" fill="#66B3FF"/>
<rect x="77.40" y="499.60" width="19.5" height="3.40" fill="#999999"/>
<rect x="77.40" y="457.40" width="19.5" height="42.20" fill="#00FF00"/>
<rect x="77.40" y="453.00" width="19.5" height="4.40" fill="#0A9632"/>
<line x1="77.40" y1="569.40" x2="96.90" y2="569.40" stroke="#fff" stroke-width="0.6" stroke-opacity="0.6"/>
<line x1="77.40" y1="503.00" x2="96.90" y2="503.00" stroke="#fff" stroke-width="0.6" stroke-opacity="0.6"/>
<line x1="77.40" y1="499.60" x2="96.90" y2="499.60" stroke="#fff" stroke-width="0.6" stroke-opacity="0.6"/>
<line x1="77.40" y1="457.40" x2="96.90" y2="457.40" stroke="#fff" stroke-width="0.6" stroke-opacity="0.6"/>
<rect x="102.90" y="572.40" width="19.5" height="3.90" fill="#FF6666"/>
<rect x="102.90" y="521.00" width="19.5" height="51.40" fill="#66B3FF"/>
<rect x="102.90" y="517.60" width="19.5" height="3.40" fill="#999999"/>
<rect x="102.90" y="460.00" width="19.5" height="57.60" fill="#00FF00"/>
<rect x="102.90" y="456.00" width="19.5" height="4.00" fill="#0A9632"/>
<rect x="102.90" y="454.40" width="19.5" height="1.60" fill="#FFFFF4"/>
<rect x="102.90" y="452.60" width="19.5" height="1.80" fill="#0000FF"/>
<line x1="102.90" y1="572.40" x2="122.40" y2="572.40" stroke="#fff" stroke-width="0.6" stroke-opacity="0.6"/>
<line x1="102.90" y1="521.00" x2="122.40" y2="521.00" stroke="#fff" stroke-width="0.6" stroke-opacity="0.6"/>
<line x1="102.90" y1="517.60" x2="122.40" y2="517.60" stroke="#fff" stroke-width="0.6" stroke-opacity="0.6"/>
<line x1="102.90" y1="460.00" x2="122.40" y2="460.00" stroke="#fff" stroke-width="0.6" stroke-opacity="0.6"/>
<line x1="102.90" y1="456.00" x2="122.40" y2="456.00" stroke="#fff" stroke-width="0.6" stroke-opacity="0.6"/>
<line x1="102.90" y1="454.40" x2="122.40" y2="454.40" stroke="#fff" stroke-width="0.6" stroke-opacity="0.6"/>
<rect x="128.40" y="574.40" width="19.5" height="1.90" fill="#FF6666"/>
<rect x="128.40" y="551.40" width="19.5" height="23.00" fill="#66B3FF"/>
<rect x="128.40" y="546.40" width="19.5" height="5.00" fill="#999999"/>
<rect x="128.40" y="459.40" width="19.5" height="87.00" fill="#00FF00"/>
<rect x="128.40" y="455.60" width="19.5" height="3.80" fill="#0A9632"/>
<rect x="128.40" y="454.20" width="19.5" height="1.40" fill="#FF6666"/>
<rect x="128.40" y="452.60" width="19.5" height="1.60" fill="#FFFF00"/>
<line x1="128.40" y1="574.40" x2="147.90" y2="574.40" stroke="#fff" stroke-width="0.6" stroke-opacity="0.6"/>
<line x1="128.40" y1="551.40" x2="147.90" y2="551.40" stroke="#fff" stroke-width="0.6" stroke-opacity="0.6"/>
<line x1="128.40" y1="546.40" x2="147.90" y2="546.40" stroke="#fff" stroke-width="0.6" stroke-opacity="0.6"/>
<line x1="128.40" y1="459.40" x2="147.90" y2="459.40" stroke="#fff" stroke-width="0.6" stroke-opacity="0.6"/>
<line x1="128.40" y1="455.60" x2="147.90" y2="455.60" stroke="#fff" stroke-width="0.6" stroke-opacity="0.6"/>
<line x1="128.40" y1="454.20" x2="147.90" y2="454.20" stroke="#fff" stroke-width="0.6" stroke-opacity="0.6"/>
<rect x="153.90" y="568.60" width="19.5" height="7.70" fill="#FF6666"/>
<rect x="153.90" y="500.40" width="19.5" height="68.20" fill="#66B3FF"/>
<rect x="153.90" y="497.60" width="19.5" height="2.80" fill="#999999"/>
<rect x="153.90" y="461.00" width="19.5" height="36.60" fill="#00FF00"/>
<rect x="153.90" y="454.40" width="19.5" height="6.60" fill="#0A9632"/>
<rect x="153.90" y="452.80" width="19.5" height="1.60" fill="#B0A0F8"/>
<line x1="153.90" y1="568.60" x2="173.40" y2="568.60" stroke="#fff" stroke-width="0.6" stroke-opacity="0.6"/>
<line x1="153.90" y1="500.40" x2="173.40" y2="500.40" stroke="#fff" stroke-width="0.6" stroke-opacity="0.6"/>
<line x1="153.90" y1="497.60" x2="173.40" y2="497.60" stroke="#fff" stroke-width="0.6" stroke-opacity="0.6"/>
<line x1="153.90" y1="461.00" x2="173.40" y2="461.00" stroke="#fff" stroke-width="0.6" stroke-opacity="0.6"/>
<line x1="153.90" y1="454.40" x2="173.40" y2="454.40" stroke="#fff" stroke-width="0.6" stroke-opacity="0.6"/>
<rect x="179.40" y="574.40" width="19.5" height="1.90" fill="#FF6666"/>
<rect x="179.40" y="547.40" width="19.5" height="27.00" fill="#66B3FF"/>
<rect x="179.40" y="537.40" width="19.5" height="10.00" fill="#999999"/>
<rect x="179.40" y="465.40" width="19.5" height="72.00" fill="#00FF00"/>
<rect x="179.40" y="460.00" width="19.5" height="5.40" fill="#0A9632"/>
<rect x="179.40" y="457.00" width="19.5" height="3.00" fill="#FFFF00"/>
<rect x="179.40" y="452.60" width="19.5" height="4.40" fill="#0000FF"/>
<line x1="179.40" y1="574.40" x2="198.90" y2="574.40" stroke="#fff" stroke-width="0.6" stroke-opacity="0.6"/>
<line x1="179.40" y1="547.40" x2="198.90" y2="547.40" stroke="#fff" stroke-width="0.6" stroke-opacity="0.6"/>
<line x1="179.40" y1="537.40" x2="198.90" y2="537.40" stroke="#fff" stroke-width="0.6" stroke-opacity="0.6"/>
<line x1="179.40" y1="465.40" x2="198.90" y2="465.40" stroke="#fff" stroke-width="0.6" stroke-opacity="0.6"/>
<line x1="179.40" y1="460.00" x2="198.90" y2="460.00" stroke="#fff" stroke-width="0.6" stroke-opacity="0.6"/>
<line x1="179.40" y1="457.00" x2="198.90" y2="457.00" stroke="#fff" stroke-width="0.6" stroke-opacity="0.6"/>
<rect x="204.90" y="573.40" width="19.5" height="2.90" fill="#FF6666"/>
<rect x="204.90" y="553.40" width="19.5" height="20.00" fill="#999999"/>
<rect x="204.90" y="491.60" width="19.5" height="61.80" fill="#00FF00"/>
<rect x="204.90" y="489.40" width="19.5" height="2.20" fill="#FFFF00"/>
<rect x="204.90" y="452.60" width="19.5" height="36.80" fill="#0000FF"/>
<line x1="204.90" y1="573.40" x2="224.40" y2="573.40" stroke="#fff" stroke-width="0.6" stroke-opacity="0.6"/>
<line x1="204.90" y1="553.40" x2="224.40" y2="553.40" stroke="#fff" stroke-width="0.6" stroke-opacity="0.6"/>
<line x1="204.90" y1="491.60" x2="224.40" y2="491.60" stroke="#fff" stroke-width="0.6" stroke-opacity="0.6"/>
<line x1="204.90" y1="489.40" x2="224.40" y2="489.40" stroke="#fff" stroke-width="0.6" stroke-opacity="0.6"/>
<line x1="57.60" y1="576.30" x2="244.30" y2="576.30" stroke="#000" stroke-width="1.3" />
<line x1="64.10" y1="451.40" x2="64.10" y2="511.60" stroke="#000" stroke-width="1.2" />
<line x1="64.10" y1="516.30" x2="64.10" y2="576.30" stroke="#000" stroke-width="1.2" />
<line x1="57.60" y1="452.00" x2="64.10" y2="452.00" stroke="#000" stroke-width="1.15" />
<line x1="57.60" y1="471.75" x2="64.10" y2="471.75" stroke="#000" stroke-width="1.15" />
<line x1="57.60" y1="491.50" x2="64.10" y2="491.50" stroke="#000" stroke-width="1.15" />
<line x1="57.60" y1="511.25" x2="64.10" y2="511.25" stroke="#000" stroke-width="1.15" />
<line x1="60.80" y1="461.90" x2="64.10" y2="461.90" stroke="#000" stroke-width="1.0" />
<line x1="60.80" y1="481.65" x2="64.10" y2="481.65" stroke="#000" stroke-width="1.0" />
<line x1="60.80" y1="501.40" x2="64.10" y2="501.40" stroke="#000" stroke-width="1.0" />
<line x1="57.60" y1="552.20" x2="64.10" y2="552.20" stroke="#000" stroke-width="1.15" />
<line x1="57.60" y1="528.10" x2="64.10" y2="528.10" stroke="#000" stroke-width="1.15" />
<line x1="60.80" y1="564.25" x2="64.10" y2="564.25" stroke="#000" stroke-width="1.0" />
<line x1="60.80" y1="540.15" x2="64.10" y2="540.15" stroke="#000" stroke-width="1.0" />
<line x1="57.50" y1="514.60" x2="70.40" y2="512.50" stroke="#000" stroke-width="1.0" />
<line x1="57.50" y1="516.30" x2="70.40" y2="514.40" stroke="#000" stroke-width="1.0" />
<line x1="237.80" y1="451.40" x2="237.80" y2="576.30" stroke="#000" stroke-width="1.2" />
<line x1="237.80" y1="452.00" x2="244.30" y2="452.00" stroke="#000" stroke-width="1.15" />
<line x1="237.80" y1="476.86" x2="244.30" y2="476.86" stroke="#000" stroke-width="1.15" />
<line x1="237.80" y1="501.72" x2="244.30" y2="501.72" stroke="#000" stroke-width="1.15" />
<line x1="237.80" y1="526.58" x2="244.30" y2="526.58" stroke="#000" stroke-width="1.15" />
<line x1="237.80" y1="551.44" x2="244.30" y2="551.44" stroke="#000" stroke-width="1.15" />
<line x1="237.80" y1="464.43" x2="241.20" y2="464.43" stroke="#000" stroke-width="1.0" />
<line x1="237.80" y1="489.29" x2="241.20" y2="489.29" stroke="#000" stroke-width="1.0" />
<line x1="237.80" y1="514.15" x2="241.20" y2="514.15" stroke="#000" stroke-width="1.0" />
<line x1="237.80" y1="539.01" x2="241.20" y2="539.01" stroke="#000" stroke-width="1.0" />
<line x1="237.80" y1="563.87" x2="241.20" y2="563.87" stroke="#000" stroke-width="1.0" />
<text class="c" x="51.10" y="456.30" font-size="10.7" text-anchor="end" font-weight="normal" >15</text>
<text class="c" x="51.10" y="476.05" font-size="10.7" text-anchor="end" font-weight="normal" >12</text>
<text class="c" x="51.10" y="495.80" font-size="10.7" text-anchor="end" font-weight="normal" >9</text>
<text class="c" x="51.10" y="508.90" font-size="10.7" text-anchor="end" font-weight="normal" >6</text>
<text class="c" x="51.10" y="532.40" font-size="10.7" text-anchor="end" font-weight="normal" >4</text>
<text class="c" x="51.10" y="556.50" font-size="10.7" text-anchor="end" font-weight="normal" >2</text>
<text class="c" x="51.10" y="580.60" font-size="10.7" text-anchor="end" font-weight="normal" >0</text>
<text class="c" x="251.10" y="456.30" font-size="10.7" text-anchor="start" font-weight="normal" >100</text>
<text class="c" x="251.10" y="481.16" font-size="10.7" text-anchor="start" font-weight="normal" >80</text>
<text class="c" x="251.10" y="506.02" font-size="10.7" text-anchor="start" font-weight="normal" >60</text>
<text class="c" x="251.10" y="530.88" font-size="10.7" text-anchor="start" font-weight="normal" >40</text>
<text class="c" x="251.10" y="555.74" font-size="10.7" text-anchor="start" font-weight="normal" >20</text>
<text class="c" x="251.10" y="580.60" font-size="10.7" text-anchor="start" font-weight="normal" >0</text>
<line x1="87.15" y1="576.90" x2="87.15" y2="582.60" stroke="#000" stroke-width="1.15" />
<text class="c" x="87.15" y="600.50" font-size="10.5" text-anchor="middle" font-weight="normal" >03</text>
<line x1="112.65" y1="576.90" x2="112.65" y2="582.60" stroke="#000" stroke-width="1.15" />
<text class="c" x="112.65" y="600.50" font-size="10.5" text-anchor="middle" font-weight="normal" >18</text>
<line x1="138.15" y1="576.90" x2="138.15" y2="582.60" stroke="#000" stroke-width="1.15" />
<text class="c" x="138.15" y="600.50" font-size="10.5" text-anchor="middle" font-weight="normal" >01</text>
<line x1="163.65" y1="576.90" x2="163.65" y2="582.60" stroke="#000" stroke-width="1.15" />
<text class="c" x="163.65" y="600.50" font-size="10.5" text-anchor="middle" font-weight="normal" >15</text>
<line x1="189.15" y1="576.90" x2="189.15" y2="582.60" stroke="#000" stroke-width="1.15" />
<text class="c" x="189.15" y="600.50" font-size="10.5" text-anchor="middle" font-weight="normal" >29</text>
<line x1="214.65" y1="576.90" x2="214.65" y2="582.60" stroke="#000" stroke-width="1.15" />
<text class="c" x="214.65" y="600.50" font-size="10.5" text-anchor="middle" font-weight="normal" >13</text>
<line x1="77.40" y1="605.10" x2="128.00" y2="605.10" stroke="#000" stroke-width="1.5" />
<line x1="135.60" y1="605.10" x2="195.40" y2="605.10" stroke="#000" stroke-width="1.5" />
<line x1="199.90" y1="605.10" x2="232.80" y2="605.10" stroke="#000" stroke-width="1.5" />
<text class="c" x="86.30" y="622.60" font-size="14.2" text-anchor="start" font-weight="normal" >Mar</text>
<text class="c" x="155.90" y="622.60" font-size="14.2" text-anchor="start" font-weight="normal" >Apr</text>
<text class="c" x="206.90" y="622.60" font-size="14.2" text-anchor="start" font-weight="normal" >May</text>
<text class="c" x="53.40" y="439.70" font-size="14.5" text-anchor="start" font-weight="bold" >E</text>
<text class="c" x="203.40" y="444.80" font-size="13.2" text-anchor="start" font-weight="normal" >St. 5</text>
<circle cx="87.15" cy="551.40" r="4.9" fill="#fff"/>
<circle cx="112.65" cy="529.60" r="4.9" fill="#fff"/>
<circle cx="138.15" cy="545.00" r="4.9" fill="#fff"/>
<circle cx="163.65" cy="457.00" r="4.9" fill="#fff"/>
<circle cx="189.15" cy="517.40" r="4.9" fill="#fff"/>
<circle cx="214.65" cy="573.00" r="4.9" fill="#fff"/>
<line x1="87.15" y1="551.40" x2="112.65" y2="529.60" stroke="#000" stroke-width="1.15" />
<line x1="112.65" y1="529.60" x2="138.15" y2="545.00" stroke="#000" stroke-width="1.15" />
<line x1="143.41" y1="516.05" x2="145.60" y2="511.30" stroke="#000" stroke-width="1.15" />
<line x1="138.15" y1="545.00" x2="143.41" y2="516.05" stroke="#000" stroke-width="1.15" />
<line x1="145.60" y1="511.30" x2="163.65" y2="457.00" stroke="#000" stroke-width="1.15" />
<line x1="188.84" y1="516.05" x2="186.12" y2="511.30" stroke="#000" stroke-width="1.15" />
<line x1="189.15" y1="517.40" x2="188.84" y2="516.05" stroke="#000" stroke-width="1.15" />
<line x1="186.12" y1="511.30" x2="163.65" y2="457.00" stroke="#000" stroke-width="1.15" />
<line x1="189.15" y1="517.40" x2="214.65" y2="573.00" stroke="#000" stroke-width="1.15" />
<circle cx="87.15" cy="551.40" r="3.75" fill="#000"/>
<circle cx="112.65" cy="529.60" r="3.75" fill="#000"/>
<circle cx="138.15" cy="545.00" r="3.75" fill="#000"/>
<circle cx="163.65" cy="457.00" r="3.75" fill="#000"/>
<circle cx="189.15" cy="517.40" r="3.75" fill="#000"/>
<circle cx="214.65" cy="573.00" r="3.75" fill="#000"/>
</g>
<g id="panelF">
<rect x="350.40" y="570.00" width="19.5" height="5.90" fill="#FF6666"/>
<rect x="350.40" y="522.40" width="19.5" height="47.60" fill="#66B3FF"/>
<rect x="350.40" y="520.00" width="19.5" height="2.40" fill="#999999"/>
<rect x="350.40" y="456.00" width="19.5" height="64.00" fill="#00FF00"/>
<rect x="350.40" y="454.40" width="19.5" height="1.60" fill="#E8E8F8"/>
<rect x="350.40" y="451.80" width="19.5" height="2.60" fill="#0000FF"/>
<line x1="350.40" y1="570.00" x2="369.90" y2="570.00" stroke="#fff" stroke-width="0.6" stroke-opacity="0.6"/>
<line x1="350.40" y1="522.40" x2="369.90" y2="522.40" stroke="#fff" stroke-width="0.6" stroke-opacity="0.6"/>
<line x1="350.40" y1="520.00" x2="369.90" y2="520.00" stroke="#fff" stroke-width="0.6" stroke-opacity="0.6"/>
<line x1="350.40" y1="456.00" x2="369.90" y2="456.00" stroke="#fff" stroke-width="0.6" stroke-opacity="0.6"/>
<line x1="350.40" y1="454.40" x2="369.90" y2="454.40" stroke="#fff" stroke-width="0.6" stroke-opacity="0.6"/>
<rect x="375.90" y="568.40" width="19.5" height="7.50" fill="#FF6666"/>
<rect x="375.90" y="528.40" width="19.5" height="40.00" fill="#66B3FF"/>
<rect x="375.90" y="520.60" width="19.5" height="7.80" fill="#999999"/>
<rect x="375.90" y="459.40" width="19.5" height="61.20" fill="#00FF00"/>
<rect x="375.90" y="457.40" width="19.5" height="2.00" fill="#0A9632"/>
<rect x="375.90" y="455.40" width="19.5" height="2.00" fill="#FF6666"/>
<rect x="375.90" y="451.80" width="19.5" height="3.60" fill="#FFFF00"/>
<line x1="375.90" y1="568.40" x2="395.40" y2="568.40" stroke="#fff" stroke-width="0.6" stroke-opacity="0.6"/>
<line x1="375.90" y1="528.40" x2="395.40" y2="528.40" stroke="#fff" stroke-width="0.6" stroke-opacity="0.6"/>
<line x1="375.90" y1="520.60" x2="395.40" y2="520.60" stroke="#fff" stroke-width="0.6" stroke-opacity="0.6"/>
<line x1="375.90" y1="459.40" x2="395.40" y2="459.40" stroke="#fff" stroke-width="0.6" stroke-opacity="0.6"/>
<line x1="375.90" y1="457.40" x2="395.40" y2="457.40" stroke="#fff" stroke-width="0.6" stroke-opacity="0.6"/>
<line x1="375.90" y1="455.40" x2="395.40" y2="455.40" stroke="#fff" stroke-width="0.6" stroke-opacity="0.6"/>
<rect x="401.40" y="515.00" width="19.5" height="60.90" fill="#66B3FF"/>
<rect x="401.40" y="511.00" width="19.5" height="4.00" fill="#999999"/>
<rect x="401.40" y="460.40" width="19.5" height="50.60" fill="#00FF00"/>
<rect x="401.40" y="455.00" width="19.5" height="5.40" fill="#0A9632"/>
<rect x="401.40" y="453.20" width="19.5" height="1.80" fill="#FFFFF4"/>
<rect x="401.40" y="451.80" width="19.5" height="1.40" fill="#B0A0F8"/>
<line x1="401.40" y1="515.00" x2="420.90" y2="515.00" stroke="#fff" stroke-width="0.6" stroke-opacity="0.6"/>
<line x1="401.40" y1="511.00" x2="420.90" y2="511.00" stroke="#fff" stroke-width="0.6" stroke-opacity="0.6"/>
<line x1="401.40" y1="460.40" x2="420.90" y2="460.40" stroke="#fff" stroke-width="0.6" stroke-opacity="0.6"/>
<line x1="401.40" y1="455.00" x2="420.90" y2="455.00" stroke="#fff" stroke-width="0.6" stroke-opacity="0.6"/>
<line x1="401.40" y1="453.20" x2="420.90" y2="453.20" stroke="#fff" stroke-width="0.6" stroke-opacity="0.6"/>
<rect x="426.90" y="573.00" width="19.5" height="2.90" fill="#FF6666"/>
<rect x="426.90" y="545.40" width="19.5" height="27.60" fill="#66B3FF"/>
<rect x="426.90" y="538.00" width="19.5" height="7.40" fill="#999999"/>
<rect x="426.90" y="461.00" width="19.5" height="77.00" fill="#00FF00"/>
<rect x="426.90" y="457.60" width="19.5" height="3.40" fill="#0A9632"/>
<rect x="426.90" y="454.40" width="19.5" height="3.20" fill="#FFFF00"/>
<rect x="426.90" y="451.80" width="19.5" height="2.60" fill="#0000FF"/>
<line x1="426.90" y1="573.00" x2="446.40" y2="573.00" stroke="#fff" stroke-width="0.6" stroke-opacity="0.6"/>
<line x1="426.90" y1="545.40" x2="446.40" y2="545.40" stroke="#fff" stroke-width="0.6" stroke-opacity="0.6"/>
<line x1="426.90" y1="538.00" x2="446.40" y2="538.00" stroke="#fff" stroke-width="0.6" stroke-opacity="0.6"/>
<line x1="426.90" y1="461.00" x2="446.40" y2="461.00" stroke="#fff" stroke-width="0.6" stroke-opacity="0.6"/>
<line x1="426.90" y1="457.60" x2="446.40" y2="457.60" stroke="#fff" stroke-width="0.6" stroke-opacity="0.6"/>
<line x1="426.90" y1="454.40" x2="446.40" y2="454.40" stroke="#fff" stroke-width="0.6" stroke-opacity="0.6"/>
<rect x="452.40" y="554.00" width="19.5" height="21.90" fill="#FF6666"/>
<rect x="452.40" y="540.60" width="19.5" height="13.40" fill="#66B3FF"/>
<rect x="452.40" y="533.60" width="19.5" height="7.00" fill="#999999"/>
<rect x="452.40" y="467.60" width="19.5" height="66.00" fill="#00FF00"/>
<rect x="452.40" y="465.60" width="19.5" height="2.00" fill="#FFFF00"/>
<rect x="452.40" y="451.80" width="19.5" height="13.80" fill="#0000FF"/>
<line x1="452.40" y1="554.00" x2="471.90" y2="554.00" stroke="#fff" stroke-width="0.6" stroke-opacity="0.6"/>
<line x1="452.40" y1="540.60" x2="471.90" y2="540.60" stroke="#fff" stroke-width="0.6" stroke-opacity="0.6"/>
<line x1="452.40" y1="533.60" x2="471.90" y2="533.60" stroke="#fff" stroke-width="0.6" stroke-opacity="0.6"/>
<line x1="452.40" y1="467.60" x2="471.90" y2="467.60" stroke="#fff" stroke-width="0.6" stroke-opacity="0.6"/>
<line x1="452.40" y1="465.60" x2="471.90" y2="465.60" stroke="#fff" stroke-width="0.6" stroke-opacity="0.6"/>
<line x1="305.10" y1="575.90" x2="491.80" y2="575.90" stroke="#000" stroke-width="1.3" />
<line x1="311.60" y1="451.00" x2="311.60" y2="511.20" stroke="#000" stroke-width="1.2" />
<line x1="311.60" y1="515.90" x2="311.60" y2="575.90" stroke="#000" stroke-width="1.2" />
<line x1="305.10" y1="451.60" x2="311.60" y2="451.60" stroke="#000" stroke-width="1.15" />
<line x1="305.10" y1="471.35" x2="311.60" y2="471.35" stroke="#000" stroke-width="1.15" />
<line x1="305.10" y1="491.10" x2="311.60" y2="491.10" stroke="#000" stroke-width="1.15" />
<line x1="305.10" y1="510.85" x2="311.60" y2="510.85" stroke="#000" stroke-width="1.15" />
<line x1="308.30" y1="461.50" x2="311.60" y2="461.50" stroke="#000" stroke-width="1.0" />
<line x1="308.30" y1="481.25" x2="311.60" y2="481.25" stroke="#000" stroke-width="1.0" />
<line x1="308.30" y1="501.00" x2="311.60" y2="501.00" stroke="#000" stroke-width="1.0" />
<line x1="305.10" y1="551.80" x2="311.60" y2="551.80" stroke="#000" stroke-width="1.15" />
<line x1="305.10" y1="527.70" x2="311.60" y2="527.70" stroke="#000" stroke-width="1.15" />
<line x1="308.30" y1="563.85" x2="311.60" y2="563.85" stroke="#000" stroke-width="1.0" />
<line x1="308.30" y1="539.75" x2="311.60" y2="539.75" stroke="#000" stroke-width="1.0" />
<line x1="305.00" y1="514.20" x2="317.90" y2="512.10" stroke="#000" stroke-width="1.0" />
<line x1="305.00" y1="515.90" x2="317.90" y2="514.00" stroke="#000" stroke-width="1.0" />
<line x1="485.30" y1="451.00" x2="485.30" y2="575.90" stroke="#000" stroke-width="1.2" />
<line x1="485.30" y1="451.60" x2="491.80" y2="451.60" stroke="#000" stroke-width="1.15" />
<line x1="485.30" y1="476.46" x2="491.80" y2="476.46" stroke="#000" stroke-width="1.15" />
<line x1="485.30" y1="501.32" x2="491.80" y2="501.32" stroke="#000" stroke-width="1.15" />
<line x1="485.30" y1="526.18" x2="491.80" y2="526.18" stroke="#000" stroke-width="1.15" />
<line x1="485.30" y1="551.04" x2="491.80" y2="551.04" stroke="#000" stroke-width="1.15" />
<line x1="485.30" y1="464.03" x2="488.70" y2="464.03" stroke="#000" stroke-width="1.0" />
<line x1="485.30" y1="488.89" x2="488.70" y2="488.89" stroke="#000" stroke-width="1.0" />
<line x1="485.30" y1="513.75" x2="488.70" y2="513.75" stroke="#000" stroke-width="1.0" />
<line x1="485.30" y1="538.61" x2="488.70" y2="538.61" stroke="#000" stroke-width="1.0" />
<line x1="485.30" y1="563.47" x2="488.70" y2="563.47" stroke="#000" stroke-width="1.0" />
<text class="c" x="298.60" y="455.90" font-size="10.7" text-anchor="end" font-weight="normal" >15</text>
<text class="c" x="298.60" y="475.65" font-size="10.7" text-anchor="end" font-weight="normal" >12</text>
<text class="c" x="298.60" y="495.40" font-size="10.7" text-anchor="end" font-weight="normal" >9</text>
<text class="c" x="298.60" y="508.50" font-size="10.7" text-anchor="end" font-weight="normal" >6</text>
<text class="c" x="298.60" y="532.00" font-size="10.7" text-anchor="end" font-weight="normal" >4</text>
<text class="c" x="298.60" y="556.10" font-size="10.7" text-anchor="end" font-weight="normal" >2</text>
<text class="c" x="298.60" y="580.20" font-size="10.7" text-anchor="end" font-weight="normal" >0</text>
<text class="c" x="498.60" y="455.90" font-size="10.7" text-anchor="start" font-weight="normal" >100</text>
<text class="c" x="498.60" y="480.76" font-size="10.7" text-anchor="start" font-weight="normal" >80</text>
<text class="c" x="498.60" y="505.62" font-size="10.7" text-anchor="start" font-weight="normal" >60</text>
<text class="c" x="498.60" y="530.48" font-size="10.7" text-anchor="start" font-weight="normal" >40</text>
<text class="c" x="498.60" y="555.34" font-size="10.7" text-anchor="start" font-weight="normal" >20</text>
<text class="c" x="498.60" y="580.20" font-size="10.7" text-anchor="start" font-weight="normal" >0</text>
<line x1="334.65" y1="576.50" x2="334.65" y2="582.20" stroke="#000" stroke-width="1.15" />
<text class="c" x="334.65" y="600.10" font-size="10.5" text-anchor="middle" font-weight="normal" >03</text>
<line x1="360.15" y1="576.50" x2="360.15" y2="582.20" stroke="#000" stroke-width="1.15" />
<text class="c" x="360.15" y="600.10" font-size="10.5" text-anchor="middle" font-weight="normal" >18</text>
<line x1="385.65" y1="576.50" x2="385.65" y2="582.20" stroke="#000" stroke-width="1.15" />
<text class="c" x="385.65" y="600.10" font-size="10.5" text-anchor="middle" font-weight="normal" >01</text>
<line x1="411.15" y1="576.50" x2="411.15" y2="582.20" stroke="#000" stroke-width="1.15" />
<text class="c" x="411.15" y="600.10" font-size="10.5" text-anchor="middle" font-weight="normal" >15</text>
<line x1="436.65" y1="576.50" x2="436.65" y2="582.20" stroke="#000" stroke-width="1.15" />
<text class="c" x="436.65" y="600.10" font-size="10.5" text-anchor="middle" font-weight="normal" >29</text>
<line x1="462.15" y1="576.50" x2="462.15" y2="582.20" stroke="#000" stroke-width="1.15" />
<text class="c" x="462.15" y="600.10" font-size="10.5" text-anchor="middle" font-weight="normal" >13</text>
<line x1="324.90" y1="604.70" x2="375.50" y2="604.70" stroke="#000" stroke-width="1.5" />
<line x1="383.10" y1="604.70" x2="442.90" y2="604.70" stroke="#000" stroke-width="1.5" />
<line x1="447.40" y1="604.70" x2="480.30" y2="604.70" stroke="#000" stroke-width="1.5" />
<text class="c" x="333.80" y="622.20" font-size="14.2" text-anchor="start" font-weight="normal" >Mar</text>
<text class="c" x="403.40" y="622.20" font-size="14.2" text-anchor="start" font-weight="normal" >Apr</text>
<text class="c" x="454.40" y="622.20" font-size="14.2" text-anchor="start" font-weight="normal" >May</text>
<text class="c" x="300.90" y="439.30" font-size="14.5" text-anchor="start" font-weight="bold" >F</text>
<text class="c" x="452.60" y="441.90" font-size="13.2" text-anchor="start" font-weight="normal" >St. 6</text>
<text class="c" x="333.80" y="567.30" font-size="11" text-anchor="middle" font-weight="normal" >n.d.</text>
<circle cx="360.15" cy="549.60" r="4.9" fill="#fff"/>
<circle cx="385.65" cy="560.40" r="4.9" fill="#fff"/>
<circle cx="411.15" cy="494.40" r="4.9" fill="#fff"/>
<circle cx="436.65" cy="532.60" r="4.9" fill="#fff"/>
<circle cx="462.15" cy="572.00" r="4.9" fill="#fff"/>
<line x1="360.15" y1="549.60" x2="385.65" y2="560.40" stroke="#000" stroke-width="1.15" />
<line x1="385.65" y1="560.40" x2="398.77" y2="515.65" stroke="#000" stroke-width="1.15" />
<line x1="402.30" y1="510.90" x2="411.15" y2="494.40" stroke="#000" stroke-width="1.15" />
<line x1="436.65" y1="532.60" x2="429.35" y2="515.65" stroke="#000" stroke-width="1.15" />
<line x1="424.15" y1="510.90" x2="411.15" y2="494.40" stroke="#000" stroke-width="1.15" />
<line x1="436.65" y1="532.60" x2="462.15" y2="572.00" stroke="#000" stroke-width="1.15" />
<circle cx="360.15" cy="549.60" r="3.75" fill="#000"/>
<circle cx="385.65" cy="560.40" r="3.75" fill="#000"/>
<circle cx="411.15" cy="494.40" r="3.75" fill="#000"/>
<circle cx="436.65" cy="532.60" r="3.75" fill="#000"/>
<circle cx="462.15" cy="572.00" r="3.75" fill="#000"/>
</g>
<g id="panelG">
<rect x="101.00" y="787.60" width="19.5" height="4.90" fill="#FF6666"/>
<rect x="101.00" y="739.00" width="19.5" height="48.60" fill="#66B3FF"/>
<rect x="101.00" y="737.00" width="19.5" height="2.00" fill="#999999"/>
<rect x="101.00" y="674.40" width="19.5" height="62.60" fill="#00FF00"/>
<rect x="101.00" y="672.60" width="19.5" height="1.80" fill="#FFFFF4"/>
<rect x="101.00" y="668.60" width="19.5" height="4.00" fill="#0000FF"/>
<line x1="101.00" y1="787.60" x2="120.50" y2="787.60" stroke="#fff" stroke-width="0.6" stroke-opacity="0.6"/>
<line x1="101.00" y1="739.00" x2="120.50" y2="739.00" stroke="#fff" stroke-width="0.6" stroke-opacity="0.6"/>
<line x1="101.00" y1="737.00" x2="120.50" y2="737.00" stroke="#fff" stroke-width="0.6" stroke-opacity="0.6"/>
<line x1="101.00" y1="674.40" x2="120.50" y2="674.40" stroke="#fff" stroke-width="0.6" stroke-opacity="0.6"/>
<line x1="101.00" y1="672.60" x2="120.50" y2="672.60" stroke="#fff" stroke-width="0.6" stroke-opacity="0.6"/>
<rect x="126.50" y="784.40" width="19.5" height="8.10" fill="#FF6666"/>
<rect x="126.50" y="751.40" width="19.5" height="33.00" fill="#66B3FF"/>
<rect x="126.50" y="741.40" width="19.5" height="10.00" fill="#999999"/>
<rect x="126.50" y="692.60" width="19.5" height="48.80" fill="#00FF00"/>
<rect x="126.50" y="690.00" width="19.5" height="2.60" fill="#0A9632"/>
<rect x="126.50" y="686.00" width="19.5" height="4.00" fill="#FF0000"/>
<rect x="126.50" y="674.00" width="19.5" height="12.00" fill="#FFFF00"/>
<rect x="126.50" y="668.60" width="19.5" height="5.40" fill="#0000FF"/>
<line x1="126.50" y1="784.40" x2="146.00" y2="784.40" stroke="#fff" stroke-width="0.6" stroke-opacity="0.6"/>
<line x1="126.50" y1="751.40" x2="146.00" y2="751.40" stroke="#fff" stroke-width="0.6" stroke-opacity="0.6"/>
<line x1="126.50" y1="741.40" x2="146.00" y2="741.40" stroke="#fff" stroke-width="0.6" stroke-opacity="0.6"/>
<line x1="126.50" y1="692.60" x2="146.00" y2="692.60" stroke="#fff" stroke-width="0.6" stroke-opacity="0.6"/>
<line x1="126.50" y1="690.00" x2="146.00" y2="690.00" stroke="#fff" stroke-width="0.6" stroke-opacity="0.6"/>
<line x1="126.50" y1="686.00" x2="146.00" y2="686.00" stroke="#fff" stroke-width="0.6" stroke-opacity="0.6"/>
<line x1="126.50" y1="674.00" x2="146.00" y2="674.00" stroke="#fff" stroke-width="0.6" stroke-opacity="0.6"/>
<rect x="152.00" y="743.00" width="19.5" height="49.50" fill="#FF6666"/>
<rect x="152.00" y="724.40" width="19.5" height="18.60" fill="#999999"/>
<rect x="152.00" y="715.00" width="19.5" height="9.40" fill="#FF0000"/>
<rect x="152.00" y="694.00" width="19.5" height="21.00" fill="#FFFF00"/>
<rect x="152.00" y="668.60" width="19.5" height="25.40" fill="#0000FF"/>
<line x1="152.00" y1="743.00" x2="171.50" y2="743.00" stroke="#fff" stroke-width="0.6" stroke-opacity="0.6"/>
<line x1="152.00" y1="724.40" x2="171.50" y2="724.40" stroke="#fff" stroke-width="0.6" stroke-opacity="0.6"/>
<line x1="152.00" y1="715.00" x2="171.50" y2="715.00" stroke="#fff" stroke-width="0.6" stroke-opacity="0.6"/>
<line x1="152.00" y1="694.00" x2="171.50" y2="694.00" stroke="#fff" stroke-width="0.6" stroke-opacity="0.6"/>
<rect x="177.50" y="781.40" width="19.5" height="11.10" fill="#FF6666"/>
<rect x="177.50" y="712.40" width="19.5" height="69.00" fill="#66B3FF"/>
<rect x="177.50" y="707.40" width="19.5" height="5.00" fill="#999999"/>
<rect x="177.50" y="677.00" width="19.5" height="30.40" fill="#00FF00"/>
<rect x="177.50" y="675.00" width="19.5" height="2.00" fill="#FF0000"/>
<rect x="177.50" y="672.60" width="19.5" height="2.40" fill="#FFFF00"/>
<rect x="177.50" y="668.60" width="19.5" height="4.00" fill="#0000FF"/>
<line x1="177.50" y1="781.40" x2="197.00" y2="781.40" stroke="#fff" stroke-width="0.6" stroke-opacity="0.6"/>
<line x1="177.50" y1="712.40" x2="197.00" y2="712.40" stroke="#fff" stroke-width="0.6" stroke-opacity="0.6"/>
<line x1="177.50" y1="707.40" x2="197.00" y2="707.40" stroke="#fff" stroke-width="0.6" stroke-opacity="0.6"/>
<line x1="177.50" y1="677.00" x2="197.00" y2="677.00" stroke="#fff" stroke-width="0.6" stroke-opacity="0.6"/>
<line x1="177.50" y1="675.00" x2="197.00" y2="675.00" stroke="#fff" stroke-width="0.6" stroke-opacity="0.6"/>
<line x1="177.50" y1="672.60" x2="197.00" y2="672.60" stroke="#fff" stroke-width="0.6" stroke-opacity="0.6"/>
<rect x="203.00" y="748.00" width="19.5" height="44.50" fill="#FF6666"/>
<rect x="203.00" y="686.00" width="19.5" height="62.00" fill="#66B3FF"/>
<rect x="203.00" y="669.40" width="19.5" height="16.60" fill="#0000FF"/>
<line x1="203.00" y1="748.00" x2="222.50" y2="748.00" stroke="#fff" stroke-width="0.6" stroke-opacity="0.6"/>
<line x1="203.00" y1="686.00" x2="222.50" y2="686.00" stroke="#fff" stroke-width="0.6" stroke-opacity="0.6"/>
<line x1="55.70" y1="792.50" x2="242.40" y2="792.50" stroke="#000" stroke-width="1.3" />
<line x1="62.20" y1="667.60" x2="62.20" y2="727.80" stroke="#000" stroke-width="1.2" />
<line x1="62.20" y1="732.50" x2="62.20" y2="792.50" stroke="#000" stroke-width="1.2" />
<line x1="55.70" y1="668.20" x2="62.20" y2="668.20" stroke="#000" stroke-width="1.15" />
<line x1="55.70" y1="687.95" x2="62.20" y2="687.95" stroke="#000" stroke-width="1.15" />
<line x1="55.70" y1="707.70" x2="62.20" y2="707.70" stroke="#000" stroke-width="1.15" />
<line x1="55.70" y1="727.45" x2="62.20" y2="727.45" stroke="#000" stroke-width="1.15" />
<line x1="58.90" y1="678.10" x2="62.20" y2="678.10" stroke="#000" stroke-width="1.0" />
<line x1="58.90" y1="697.85" x2="62.20" y2="697.85" stroke="#000" stroke-width="1.0" />
<line x1="58.90" y1="717.60" x2="62.20" y2="717.60" stroke="#000" stroke-width="1.0" />
<line x1="55.70" y1="768.40" x2="62.20" y2="768.40" stroke="#000" stroke-width="1.15" />
<line x1="55.70" y1="744.30" x2="62.20" y2="744.30" stroke="#000" stroke-width="1.15" />
<line x1="58.90" y1="780.45" x2="62.20" y2="780.45" stroke="#000" stroke-width="1.0" />
<line x1="58.90" y1="756.35" x2="62.20" y2="756.35" stroke="#000" stroke-width="1.0" />
<line x1="55.60" y1="730.80" x2="68.50" y2="728.70" stroke="#000" stroke-width="1.0" />
<line x1="55.60" y1="732.50" x2="68.50" y2="730.60" stroke="#000" stroke-width="1.0" />
<line x1="235.90" y1="667.60" x2="235.90" y2="792.50" stroke="#000" stroke-width="1.2" />
<line x1="235.90" y1="668.20" x2="242.40" y2="668.20" stroke="#000" stroke-width="1.15" />
<line x1="235.90" y1="693.06" x2="242.40" y2="693.06" stroke="#000" stroke-width="1.15" />
<line x1="235.90" y1="717.92" x2="242.40" y2="717.92" stroke="#000" stroke-width="1.15" />
<line x1="235.90" y1="742.78" x2="242.40" y2="742.78" stroke="#000" stroke-width="1.15" />
<line x1="235.90" y1="767.64" x2="242.40" y2="767.64" stroke="#000" stroke-width="1.15" />
<line x1="235.90" y1="680.63" x2="239.30" y2="680.63" stroke="#000" stroke-width="1.0" />
<line x1="235.90" y1="705.49" x2="239.30" y2="705.49" stroke="#000" stroke-width="1.0" />
<line x1="235.90" y1="730.35" x2="239.30" y2="730.35" stroke="#000" stroke-width="1.0" />
<line x1="235.90" y1="755.21" x2="239.30" y2="755.21" stroke="#000" stroke-width="1.0" />
<line x1="235.90" y1="780.07" x2="239.30" y2="780.07" stroke="#000" stroke-width="1.0" />
<text class="c" x="49.20" y="672.50" font-size="10.7" text-anchor="end" font-weight="normal" >15</text>
<text class="c" x="49.20" y="692.25" font-size="10.7" text-anchor="end" font-weight="normal" >12</text>
<text class="c" x="49.20" y="712.00" font-size="10.7" text-anchor="end" font-weight="normal" >9</text>
<text class="c" x="49.20" y="725.10" font-size="10.7" text-anchor="end" font-weight="normal" >6</text>
<text class="c" x="49.20" y="748.60" font-size="10.7" text-anchor="end" font-weight="normal" >4</text>
<text class="c" x="49.20" y="772.70" font-size="10.7" text-anchor="end" font-weight="normal" >2</text>
<text class="c" x="49.20" y="796.80" font-size="10.7" text-anchor="end" font-weight="normal" >0</text>
<text class="c" x="249.20" y="672.50" font-size="10.7" text-anchor="start" font-weight="normal" >100</text>
<text class="c" x="249.20" y="697.36" font-size="10.7" text-anchor="start" font-weight="normal" >80</text>
<text class="c" x="249.20" y="722.22" font-size="10.7" text-anchor="start" font-weight="normal" >60</text>
<text class="c" x="249.20" y="747.08" font-size="10.7" text-anchor="start" font-weight="normal" >40</text>
<text class="c" x="249.20" y="771.94" font-size="10.7" text-anchor="start" font-weight="normal" >20</text>
<text class="c" x="249.20" y="796.80" font-size="10.7" text-anchor="start" font-weight="normal" >0</text>
<line x1="85.25" y1="793.10" x2="85.25" y2="798.80" stroke="#000" stroke-width="1.15" />
<text class="c" x="85.25" y="816.70" font-size="10.5" text-anchor="middle" font-weight="normal" >03</text>
<line x1="110.75" y1="793.10" x2="110.75" y2="798.80" stroke="#000" stroke-width="1.15" />
<text class="c" x="110.75" y="816.70" font-size="10.5" text-anchor="middle" font-weight="normal" >18</text>
<line x1="136.25" y1="793.10" x2="136.25" y2="798.80" stroke="#000" stroke-width="1.15" />
<text class="c" x="136.25" y="816.70" font-size="10.5" text-anchor="middle" font-weight="normal" >01</text>
<line x1="161.75" y1="793.10" x2="161.75" y2="798.80" stroke="#000" stroke-width="1.15" />
<text class="c" x="161.75" y="816.70" font-size="10.5" text-anchor="middle" font-weight="normal" >15</text>
<line x1="187.25" y1="793.10" x2="187.25" y2="798.80" stroke="#000" stroke-width="1.15" />
<text class="c" x="187.25" y="816.70" font-size="10.5" text-anchor="middle" font-weight="normal" >29</text>
<line x1="212.75" y1="793.10" x2="212.75" y2="798.80" stroke="#000" stroke-width="1.15" />
<text class="c" x="212.75" y="816.70" font-size="10.5" text-anchor="middle" font-weight="normal" >13</text>
<line x1="75.50" y1="821.30" x2="126.10" y2="821.30" stroke="#000" stroke-width="1.5" />
<line x1="133.70" y1="821.30" x2="193.50" y2="821.30" stroke="#000" stroke-width="1.5" />
<line x1="198.00" y1="821.30" x2="230.90" y2="821.30" stroke="#000" stroke-width="1.5" />
<text class="c" x="84.40" y="838.80" font-size="14.2" text-anchor="start" font-weight="normal" >Mar</text>
<text class="c" x="154.00" y="838.80" font-size="14.2" text-anchor="start" font-weight="normal" >Apr</text>
<text class="c" x="205.00" y="838.80" font-size="14.2" text-anchor="start" font-weight="normal" >May</text>
<text class="c" x="51.50" y="655.90" font-size="14.5" text-anchor="start" font-weight="bold" >G</text>
<text class="c" x="202.70" y="660.50" font-size="13.2" text-anchor="start" font-weight="normal" >St. 7</text>
<text class="c" x="84.40" y="783.90" font-size="11" text-anchor="middle" font-weight="normal" >n.d.</text>
<circle cx="110.75" cy="775.40" r="4.9" fill="#fff"/>
<circle cx="136.25" cy="787.40" r="4.9" fill="#fff"/>
<circle cx="161.75" cy="791.40" r="4.9" fill="#fff"/>
<circle cx="187.25" cy="788.60" r="4.9" fill="#fff"/>
<circle cx="212.75" cy="791.40" r="4.9" fill="#fff"/>
<line x1="110.75" y1="775.40" x2="136.25" y2="787.40" stroke="#000" stroke-width="1.15" />
<line x1="136.25" y1="787.40" x2="161.75" y2="791.40" stroke="#000" stroke-width="1.15" />
<line x1="161.75" y1="791.40" x2="187.25" y2="788.60" stroke="#000" stroke-width="1.15" />
<line x1="187.25" y1="788.60" x2="212.75" y2="791.40" stroke="#000" stroke-width="1.15" />
<circle cx="110.75" cy="775.40" r="3.75" fill="#000"/>
<circle cx="136.25" cy="787.40" r="3.75" fill="#000"/>
<circle cx="161.75" cy="791.40" r="3.75" fill="#000"/>
<circle cx="187.25" cy="788.60" r="3.75" fill="#000"/>
<circle cx="212.75" cy="791.40" r="3.75" fill="#000"/>
</g>
<text transform="translate(19.3,575.1) rotate(-90)" font-size="17.5">Toxicity in mussel (mg STX diHCl eq. kg<tspan dx="1.0" dy="-3.6" font-size="15" fill="#888">−</tspan><tspan dx="0.25" dy="-2.8" font-size="9.5">1</tspan><tspan dy="6.4" dx="1.3">)</tspan></text>
<text transform="translate(542.6,481.2) rotate(-90) scale(1,1.07)" font-size="17.3">Relative toxicity (%)</text>
<g id="legend">
<rect x="312.4" y="695" width="169" height="100" fill="#fff" stroke="#c8c8c8" stroke-width="1"/>
<rect x="320" y="704.6" width="27.6" height="8.4" fill="#FF6666"/>
<text class="c" x="355.00" y="712.70" font-size="10.5" text-anchor="start" font-weight="normal" >C1/2</text>
<rect x="320" y="722.8" width="27.6" height="8.4" fill="#66B3FF"/>
<text class="c" x="355.00" y="730.90" font-size="10.5" text-anchor="start" font-weight="normal" >GTX4</text>
<rect x="320" y="741.0" width="27.6" height="8.4" fill="#999999"/>
<text class="c" x="355.00" y="749.10" font-size="10.5" text-anchor="start" font-weight="normal" >GTX2/3</text>
<rect x="320" y="759.2" width="27.6" height="8.4" fill="#00FF00"/>
<text class="c" x="355.00" y="767.30" font-size="10.5" text-anchor="start" font-weight="normal" >GTX1</text>
<rect x="320" y="777.4" width="27.6" height="8.4" fill="#0A9632"/>
<text class="c" x="355.00" y="785.50" font-size="10.5" text-anchor="start" font-weight="normal" >NEO</text>
<rect x="402" y="704.6" width="27.6" height="8.4" fill="#FF0000"/>
<text class="c" x="437.00" y="712.70" font-size="10.5" text-anchor="start" font-weight="normal" >STX</text>
<rect x="402" y="722.8" width="27.6" height="8.4" fill="#FFFF00"/>
<text class="c" x="437.00" y="730.90" font-size="10.5" text-anchor="start" font-weight="normal" >dcGTX3</text>
<rect x="402" y="741.0" width="27.6" height="8.4" fill="#0000FF"/>
<text class="c" x="437.00" y="749.10" font-size="10.5" text-anchor="start" font-weight="normal" >dcSTX</text>
<rect x="402" y="759.2" width="27.6" height="8.4" fill="#000000"/>
<text class="c" x="437.00" y="767.30" font-size="10.5" text-anchor="start" font-weight="normal" >dcNEO</text>
<line x1="402.00" y1="781.60" x2="429.60" y2="781.60" stroke="#000" stroke-width="1.0" />
<circle cx="415.7" cy="781.6" r="4.3" fill="#000" stroke="#fff" stroke-width="1.2"/>
<text class="c" x="437.00" y="785.50" font-size="10.5" text-anchor="start" font-weight="normal" >Toxicity</text>
</g>
</svg>
</body>
</html>
